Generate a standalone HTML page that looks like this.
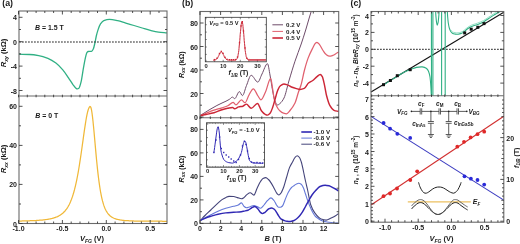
<!DOCTYPE html>
<html><head><meta charset="utf-8"><style>html,body{margin:0;padding:0;background:#fff;width:520px;height:244px;overflow:hidden}svg{display:block}</style></head>
<body>
<svg width="520" height="244" viewBox="0 0 520 244" font-family="'Liberation Sans', Arial, sans-serif" fill="#1a1a1a" font-weight="bold">
<rect width="520" height="244" fill="#fff"/>
<path d="M19.00,54.20 C22.50,54.30 26.00,54.34 29.50,54.50 C32.57,54.64 35.63,55.07 38.70,55.60 C41.77,56.13 44.83,57.17 47.90,58.40 C50.57,59.47 53.23,61.04 55.90,63.00 C58.20,64.69 60.50,67.20 62.80,69.90 C64.70,72.13 66.60,75.14 68.50,77.90 C70.03,80.13 71.57,82.76 73.10,84.80 C74.03,86.04 74.97,87.57 75.90,88.20 C76.37,88.52 76.83,88.90 77.30,88.90 C77.83,88.90 78.37,88.59 78.90,88.20 C79.67,87.64 80.43,84.36 81.20,81.30 C81.97,78.24 82.73,71.77 83.50,67.60 C84.27,63.43 85.03,59.01 85.80,56.10 C86.17,54.71 86.53,53.16 86.90,52.60 C87.27,52.04 87.63,51.55 88.00,51.50 C89.17,51.35 90.33,51.44 91.50,51.30 C92.10,51.23 92.70,50.15 93.30,49.00 C93.83,47.97 94.37,45.29 94.90,43.00 C95.37,40.99 95.83,37.95 96.30,36.00 C96.90,33.49 97.50,31.33 98.10,29.60 C98.90,27.30 99.70,25.05 100.50,23.90 C101.60,22.32 102.70,21.03 103.80,20.60 C105.70,19.85 107.60,19.30 109.50,19.30 C112.23,19.30 114.97,20.03 117.70,20.60 C120.40,21.17 123.10,22.29 125.80,23.10 C128.53,23.92 131.27,24.68 134.00,25.50 C136.73,26.32 139.47,27.18 142.20,28.00 C144.93,28.82 147.67,29.73 150.40,30.40 C153.10,31.06 155.80,31.75 158.50,32.10 C161.33,32.47 164.17,32.63 167.00,32.90" fill="none" stroke="#30b084" stroke-width="1.3"/>
<path d="M19.0,221.0 L19.5,221.0 L20.0,221.0 L20.5,221.0 L21.0,221.0 L21.5,221.0 L22.0,220.9 L22.5,220.9 L23.0,220.9 L23.5,220.9 L24.0,220.9 L24.5,220.9 L25.0,220.9 L25.5,220.9 L26.0,220.9 L26.5,220.8 L27.0,220.8 L27.5,220.8 L28.0,220.8 L28.5,220.8 L29.0,220.8 L29.5,220.8 L30.0,220.7 L30.5,220.7 L31.0,220.7 L31.5,220.7 L32.0,220.7 L32.5,220.6 L33.0,220.6 L33.5,220.6 L34.0,220.6 L34.5,220.6 L35.0,220.5 L35.5,220.5 L36.0,220.5 L36.5,220.4 L37.0,220.4 L37.5,220.4 L38.0,220.4 L38.5,220.3 L39.0,220.3 L39.5,220.2 L40.0,220.2 L40.5,220.2 L41.0,220.1 L41.5,220.1 L42.0,220.0 L42.5,220.0 L43.0,219.9 L43.5,219.9 L44.0,219.8 L44.5,219.8 L45.0,219.7 L45.5,219.6 L46.0,219.6 L46.5,219.5 L47.0,219.4 L47.5,219.4 L48.0,219.3 L48.5,219.2 L49.0,219.1 L49.5,219.0 L50.0,218.9 L50.5,218.8 L51.0,218.7 L51.5,218.6 L52.0,218.5 L52.5,218.3 L53.0,218.2 L53.5,218.1 L54.0,217.9 L54.5,217.7 L55.0,217.6 L55.5,217.4 L56.0,217.2 L56.5,217.0 L57.0,216.8 L57.5,216.6 L58.0,216.3 L58.5,216.1 L59.0,215.8 L59.5,215.5 L60.0,215.2 L60.5,214.9 L61.0,214.6 L61.5,214.2 L62.0,213.8 L62.5,213.4 L63.0,213.0 L63.5,212.5 L64.0,212.0 L64.5,211.5 L65.0,211.0 L65.5,210.4 L66.0,209.7 L66.5,209.1 L67.0,208.3 L67.5,207.6 L68.0,206.8 L68.5,205.9 L69.0,205.0 L69.5,204.0 L70.0,202.9 L70.5,201.8 L71.0,200.6 L71.5,199.3 L72.0,197.9 L72.5,196.5 L73.0,194.9 L73.5,193.3 L74.0,191.5 L74.5,189.7 L75.0,187.7 L75.5,185.6 L76.0,183.4 L76.5,181.1 L77.0,178.6 L77.5,176.0 L78.0,173.3 L78.5,170.5 L79.0,167.5 L79.5,164.4 L80.0,161.2 L80.5,157.9 L81.0,154.5 L81.5,151.0 L82.0,147.5 L82.5,143.9 L83.0,140.3 L83.5,136.7 L84.0,133.1 L84.5,129.7 L85.0,126.3 L85.5,123.1 L86.0,120.0 L86.5,117.2 L87.0,114.7 L87.5,112.4 L88.0,110.5 L88.5,108.9 L89.0,107.7 L89.5,106.9 L90.0,106.5 L90.5,106.7 L91.0,107.8 L91.5,109.9 L92.0,113.0 L92.5,116.8 L93.0,121.2 L93.5,126.2 L94.0,131.5 L94.5,137.1 L95.0,142.8 L95.5,148.4 L96.0,153.9 L96.5,159.2 L97.0,164.3 L97.5,169.1 L98.0,173.6 L98.5,177.8 L99.0,181.7 L99.5,185.2 L100.0,188.5 L100.5,191.5 L101.0,194.2 L101.5,196.7 L102.0,198.9 L102.5,200.9 L103.0,202.7 L103.5,204.4 L104.0,205.9 L104.5,207.2 L105.0,208.4 L105.5,209.5 L106.0,210.5 L106.5,211.4 L107.0,212.2 L107.5,213.0 L108.0,213.7 L108.5,214.3 L109.0,214.8 L109.5,215.3 L110.0,215.8 L110.5,216.2 L111.0,216.6 L111.5,216.9 L112.0,217.2 L112.5,217.5 L113.0,217.8 L113.5,218.0 L114.0,218.3 L114.5,218.5 L115.0,218.6 L115.5,218.8 L116.0,219.0 L116.5,219.1 L117.0,219.3 L117.5,219.4 L118.0,219.5 L118.5,219.6 L119.0,219.7 L119.5,219.8 L120.0,219.9 L120.5,220.0 L121.0,220.1 L121.5,220.1 L122.0,220.2 L122.5,220.3 L123.0,220.3 L123.5,220.4 L124.0,220.4 L124.5,220.5 L125.0,220.5 L125.5,220.5 L126.0,220.6 L126.5,220.6 L127.0,220.6 L127.5,220.7 L128.0,220.7 L128.5,220.7 L129.0,220.8 L129.5,220.8 L130.0,220.8 L130.5,220.8 L131.0,220.9 L131.5,220.9 L132.0,220.9 L132.5,220.9 L133.0,220.9 L133.5,220.9 L134.0,221.0 L134.5,221.0 L135.0,221.0 L135.5,221.0 L136.0,221.0 L136.5,221.0 L137.0,221.0 L137.5,221.0 L138.0,221.1 L138.5,221.1 L139.0,221.1 L139.5,221.1 L140.0,221.1 L140.5,221.1 L141.0,221.1 L141.5,221.1 L142.0,221.1 L142.5,221.1 L143.0,221.1 L143.5,221.1 L144.0,221.1 L144.5,221.2 L145.0,221.2 L145.5,221.2 L146.0,221.2 L146.5,221.2 L147.0,221.2 L147.5,221.2 L148.0,221.2 L148.5,221.2 L149.0,221.2 L149.5,221.2 L150.0,221.2 L150.5,221.2 L151.0,221.2 L151.5,221.2 L152.0,221.2 L152.5,221.2 L153.0,221.2 L153.5,221.2 L154.0,221.2 L154.5,221.2 L155.0,221.2 L155.5,221.2 L156.0,221.2 L156.5,221.2 L157.0,221.2 L157.5,221.2 L158.0,221.2 L158.5,221.2 L159.0,221.2 L159.5,221.2 L160.0,221.2 L160.5,221.2 L161.0,221.2 L161.5,221.2 L162.0,221.2 L162.5,221.3 L163.0,221.3 L163.5,221.3 L164.0,221.3 L164.5,221.3 L165.0,221.3 L165.5,221.3 L166.0,221.3 L166.5,221.3 L167.0,221.3" fill="none" stroke="#f0b838" stroke-width="1.25"/>
<line x1="19.0" y1="42.0" x2="167.0" y2="42.0" stroke="#2a2a2a" stroke-width="1.2" stroke-dasharray="1.8,1.2"/>
<rect x="19" y="11" width="148" height="212.5" fill="none" stroke="#6a6a6a" stroke-width="1.1"/>
<line x1="19.0" y1="96.0" x2="167.0" y2="96.0" stroke="#6a6a6a" stroke-width="1.1" />
<line x1="18.5" y1="11.0" x2="18.5" y2="14.5" stroke="#333" stroke-width="0.85" />
<line x1="18.5" y1="223.5" x2="18.5" y2="220.0" stroke="#333" stroke-width="0.85" />
<line x1="18.5" y1="94.7" x2="18.5" y2="97.3" stroke="#333" stroke-width="0.85" />
<line x1="27.3" y1="11.0" x2="27.3" y2="13.0" stroke="#333" stroke-width="0.85" />
<line x1="27.3" y1="223.5" x2="27.3" y2="221.5" stroke="#333" stroke-width="0.85" />
<line x1="27.3" y1="94.7" x2="27.3" y2="97.3" stroke="#333" stroke-width="0.85" />
<line x1="36.1" y1="11.0" x2="36.1" y2="13.0" stroke="#333" stroke-width="0.85" />
<line x1="36.1" y1="223.5" x2="36.1" y2="221.5" stroke="#333" stroke-width="0.85" />
<line x1="36.1" y1="94.7" x2="36.1" y2="97.3" stroke="#333" stroke-width="0.85" />
<line x1="44.8" y1="11.0" x2="44.8" y2="13.0" stroke="#333" stroke-width="0.85" />
<line x1="44.8" y1="223.5" x2="44.8" y2="221.5" stroke="#333" stroke-width="0.85" />
<line x1="44.8" y1="94.7" x2="44.8" y2="97.3" stroke="#333" stroke-width="0.85" />
<line x1="53.6" y1="11.0" x2="53.6" y2="13.0" stroke="#333" stroke-width="0.85" />
<line x1="53.6" y1="223.5" x2="53.6" y2="221.5" stroke="#333" stroke-width="0.85" />
<line x1="53.6" y1="94.7" x2="53.6" y2="97.3" stroke="#333" stroke-width="0.85" />
<line x1="62.4" y1="11.0" x2="62.4" y2="14.5" stroke="#333" stroke-width="0.85" />
<line x1="62.4" y1="223.5" x2="62.4" y2="220.0" stroke="#333" stroke-width="0.85" />
<line x1="62.4" y1="94.7" x2="62.4" y2="97.3" stroke="#333" stroke-width="0.85" />
<line x1="71.2" y1="11.0" x2="71.2" y2="13.0" stroke="#333" stroke-width="0.85" />
<line x1="71.2" y1="223.5" x2="71.2" y2="221.5" stroke="#333" stroke-width="0.85" />
<line x1="71.2" y1="94.7" x2="71.2" y2="97.3" stroke="#333" stroke-width="0.85" />
<line x1="80.0" y1="11.0" x2="80.0" y2="13.0" stroke="#333" stroke-width="0.85" />
<line x1="80.0" y1="223.5" x2="80.0" y2="221.5" stroke="#333" stroke-width="0.85" />
<line x1="80.0" y1="94.7" x2="80.0" y2="97.3" stroke="#333" stroke-width="0.85" />
<line x1="88.7" y1="11.0" x2="88.7" y2="13.0" stroke="#333" stroke-width="0.85" />
<line x1="88.7" y1="223.5" x2="88.7" y2="221.5" stroke="#333" stroke-width="0.85" />
<line x1="88.7" y1="94.7" x2="88.7" y2="97.3" stroke="#333" stroke-width="0.85" />
<line x1="97.5" y1="11.0" x2="97.5" y2="13.0" stroke="#333" stroke-width="0.85" />
<line x1="97.5" y1="223.5" x2="97.5" y2="221.5" stroke="#333" stroke-width="0.85" />
<line x1="97.5" y1="94.7" x2="97.5" y2="97.3" stroke="#333" stroke-width="0.85" />
<line x1="106.3" y1="11.0" x2="106.3" y2="14.5" stroke="#333" stroke-width="0.85" />
<line x1="106.3" y1="223.5" x2="106.3" y2="220.0" stroke="#333" stroke-width="0.85" />
<line x1="106.3" y1="94.7" x2="106.3" y2="97.3" stroke="#333" stroke-width="0.85" />
<line x1="115.1" y1="11.0" x2="115.1" y2="13.0" stroke="#333" stroke-width="0.85" />
<line x1="115.1" y1="223.5" x2="115.1" y2="221.5" stroke="#333" stroke-width="0.85" />
<line x1="115.1" y1="94.7" x2="115.1" y2="97.3" stroke="#333" stroke-width="0.85" />
<line x1="123.9" y1="11.0" x2="123.9" y2="13.0" stroke="#333" stroke-width="0.85" />
<line x1="123.9" y1="223.5" x2="123.9" y2="221.5" stroke="#333" stroke-width="0.85" />
<line x1="123.9" y1="94.7" x2="123.9" y2="97.3" stroke="#333" stroke-width="0.85" />
<line x1="132.6" y1="11.0" x2="132.6" y2="13.0" stroke="#333" stroke-width="0.85" />
<line x1="132.6" y1="223.5" x2="132.6" y2="221.5" stroke="#333" stroke-width="0.85" />
<line x1="132.6" y1="94.7" x2="132.6" y2="97.3" stroke="#333" stroke-width="0.85" />
<line x1="141.4" y1="11.0" x2="141.4" y2="13.0" stroke="#333" stroke-width="0.85" />
<line x1="141.4" y1="223.5" x2="141.4" y2="221.5" stroke="#333" stroke-width="0.85" />
<line x1="141.4" y1="94.7" x2="141.4" y2="97.3" stroke="#333" stroke-width="0.85" />
<line x1="150.2" y1="11.0" x2="150.2" y2="14.5" stroke="#333" stroke-width="0.85" />
<line x1="150.2" y1="223.5" x2="150.2" y2="220.0" stroke="#333" stroke-width="0.85" />
<line x1="150.2" y1="94.7" x2="150.2" y2="97.3" stroke="#333" stroke-width="0.85" />
<line x1="159.0" y1="11.0" x2="159.0" y2="13.0" stroke="#333" stroke-width="0.85" />
<line x1="159.0" y1="223.5" x2="159.0" y2="221.5" stroke="#333" stroke-width="0.85" />
<line x1="159.0" y1="94.7" x2="159.0" y2="97.3" stroke="#333" stroke-width="0.85" />
<line x1="19.0" y1="90.5" x2="22.5" y2="90.5" stroke="#333" stroke-width="0.85" />
<line x1="167.0" y1="90.5" x2="163.5" y2="90.5" stroke="#333" stroke-width="0.85" />
<line x1="19.0" y1="78.3" x2="21.0" y2="78.3" stroke="#333" stroke-width="0.85" />
<line x1="167.0" y1="78.3" x2="165.0" y2="78.3" stroke="#333" stroke-width="0.85" />
<line x1="19.0" y1="66.1" x2="22.5" y2="66.1" stroke="#333" stroke-width="0.85" />
<line x1="167.0" y1="66.1" x2="163.5" y2="66.1" stroke="#333" stroke-width="0.85" />
<line x1="19.0" y1="53.9" x2="21.0" y2="53.9" stroke="#333" stroke-width="0.85" />
<line x1="167.0" y1="53.9" x2="165.0" y2="53.9" stroke="#333" stroke-width="0.85" />
<line x1="19.0" y1="41.7" x2="22.5" y2="41.7" stroke="#333" stroke-width="0.85" />
<line x1="167.0" y1="41.7" x2="163.5" y2="41.7" stroke="#333" stroke-width="0.85" />
<line x1="19.0" y1="29.5" x2="21.0" y2="29.5" stroke="#333" stroke-width="0.85" />
<line x1="167.0" y1="29.5" x2="165.0" y2="29.5" stroke="#333" stroke-width="0.85" />
<line x1="19.0" y1="17.3" x2="22.5" y2="17.3" stroke="#333" stroke-width="0.85" />
<line x1="167.0" y1="17.3" x2="163.5" y2="17.3" stroke="#333" stroke-width="0.85" />
<line x1="19.0" y1="223.5" x2="22.5" y2="223.5" stroke="#333" stroke-width="0.85" />
<line x1="167.0" y1="223.5" x2="163.5" y2="223.5" stroke="#333" stroke-width="0.85" />
<line x1="19.0" y1="204.0" x2="21.0" y2="204.0" stroke="#333" stroke-width="0.85" />
<line x1="167.0" y1="204.0" x2="165.0" y2="204.0" stroke="#333" stroke-width="0.85" />
<line x1="19.0" y1="184.4" x2="22.5" y2="184.4" stroke="#333" stroke-width="0.85" />
<line x1="167.0" y1="184.4" x2="163.5" y2="184.4" stroke="#333" stroke-width="0.85" />
<line x1="19.0" y1="164.9" x2="21.0" y2="164.9" stroke="#333" stroke-width="0.85" />
<line x1="167.0" y1="164.9" x2="165.0" y2="164.9" stroke="#333" stroke-width="0.85" />
<line x1="19.0" y1="145.4" x2="22.5" y2="145.4" stroke="#333" stroke-width="0.85" />
<line x1="167.0" y1="145.4" x2="163.5" y2="145.4" stroke="#333" stroke-width="0.85" />
<line x1="19.0" y1="125.8" x2="21.0" y2="125.8" stroke="#333" stroke-width="0.85" />
<line x1="167.0" y1="125.8" x2="165.0" y2="125.8" stroke="#333" stroke-width="0.85" />
<line x1="19.0" y1="106.3" x2="22.5" y2="106.3" stroke="#333" stroke-width="0.85" />
<line x1="167.0" y1="106.3" x2="163.5" y2="106.3" stroke="#333" stroke-width="0.85" />
<text x="17.0" y="20.3" font-size="7" text-anchor="end" >4</text>
<text x="17.0" y="44.7" font-size="7" text-anchor="end" >0</text>
<text x="17.0" y="69.1" font-size="7" text-anchor="end" >-4</text>
<text x="17.0" y="93.5" font-size="7" text-anchor="end" >-8</text>
<text x="17.0" y="109.3" font-size="7" text-anchor="end" >60</text>
<text x="17.0" y="148.4" font-size="7" text-anchor="end" >40</text>
<text x="17.0" y="187.4" font-size="7" text-anchor="end" >20</text>
<text x="17.0" y="226.5" font-size="7" text-anchor="end" >0</text>
<text x="18.5" y="230.5" font-size="7" text-anchor="middle" >-1.0</text>
<text x="62.4" y="230.5" font-size="7" text-anchor="middle" >-0.5</text>
<text x="106.3" y="230.5" font-size="7" text-anchor="middle" >0.0</text>
<text x="150.2" y="230.5" font-size="7" text-anchor="middle" >0.5</text>
<text x="92.0" y="241.0" font-size="7.5" text-anchor="middle" ><tspan font-style="italic">V</tspan><tspan font-size="5" font-style="italic" dy="1.5">FG</tspan><tspan dy="-1.5"> (V)</tspan></text>
<text x="2.3" y="6.0" font-size="8.8" text-anchor="start" font-weight="bold">(a)</text>
<text x="35.0" y="29.9" font-size="7.7" text-anchor="start" textLength="28.8" lengthAdjust="spacingAndGlyphs"><tspan font-style="italic">B</tspan> = 1.5 T</text>
<text x="35.2" y="117.6" font-size="7.5" text-anchor="start" textLength="23" lengthAdjust="spacingAndGlyphs"><tspan font-style="italic">B</tspan> = 0 T</text>
<text transform="translate(6.3,53) rotate(-90)" font-size="7.6" text-anchor="middle"><tspan font-style="italic">R</tspan><tspan font-size="5" font-style="italic" dy="1.5">xy</tspan><tspan dy="-1.5"> (kΩ)</tspan></text>
<text transform="translate(6.3,159) rotate(-90)" font-size="7.6" text-anchor="middle"><tspan font-style="italic">R</tspan><tspan font-size="5" font-style="italic" dy="1.5">xx</tspan><tspan dy="-1.5"> (kΩ)</tspan></text>
<path d="M200.20,115.50 C201.80,114.50 203.40,113.50 205.00,112.50 C206.67,111.46 208.33,110.39 210.00,109.40 C212.30,108.04 214.60,106.70 216.90,105.50 C218.60,104.61 220.30,103.80 222.00,103.00 C223.33,102.38 224.67,101.86 226.00,101.20 C227.17,100.62 228.33,100.04 229.50,99.30 C230.47,98.69 231.43,97.10 232.40,97.10 C233.17,97.10 233.93,98.60 234.70,98.60 C236.27,98.60 237.83,91.60 239.40,91.60 C240.40,91.60 241.40,95.60 242.40,95.60 C243.77,95.60 245.13,88.66 246.50,85.50 C248.07,81.88 249.63,75.30 251.20,75.30 C253.40,75.30 255.60,82.10 257.80,82.10 C259.20,82.10 260.60,76.66 262.00,74.00 C263.83,70.51 265.67,63.70 267.50,63.70 C268.33,63.70 269.17,70.70 270.00,75.00 C270.83,79.30 271.67,85.69 272.50,90.00 C273.27,93.97 274.03,98.60 274.80,100.50 C275.70,102.73 276.60,105.00 277.50,105.00 C278.33,105.00 279.17,104.18 280.00,103.50 C281.33,102.42 282.67,100.59 284.00,98.00 C285.63,94.83 287.27,86.48 288.90,81.00 C290.93,74.17 292.97,67.28 295.00,61.20 C297.07,55.02 299.13,50.08 301.20,44.00 C302.70,39.59 304.20,34.90 305.70,30.00 C306.87,26.19 308.03,21.88 309.20,18.00 C309.87,15.78 310.53,13.67 311.20,11.50" fill="none" stroke="#6e4c6a" stroke-width="1.0"/>
<path d="M200.20,115.60 C202.13,114.83 204.07,114.06 206.00,113.30 C208.67,112.25 211.33,111.10 214.00,110.20 C216.67,109.30 219.33,108.68 222.00,107.80 C224.10,107.11 226.20,106.49 228.30,105.50 C229.90,104.74 231.50,102.40 233.10,102.40 C234.03,102.40 234.97,104.80 235.90,104.80 C237.77,104.80 239.63,99.90 241.50,99.90 C242.67,99.90 243.83,102.70 245.00,102.70 C246.33,102.70 247.67,97.20 249.00,95.00 C250.43,92.63 251.87,88.80 253.30,88.80 C254.87,88.80 256.43,93.81 258.00,96.00 C259.00,97.40 260.00,99.90 261.00,99.90 C262.50,99.90 264.00,95.14 265.50,92.00 C267.23,88.38 268.97,78.40 270.70,78.40 C271.30,78.40 271.90,84.53 272.50,88.00 C273.13,91.66 273.77,97.49 274.40,100.00 C275.10,102.77 275.80,104.62 276.50,106.00 C277.60,108.17 278.70,109.81 279.80,110.80 C281.03,111.91 282.27,112.83 283.50,113.20 C284.50,113.50 285.50,113.80 286.50,113.80 C287.67,113.80 288.83,111.83 290.00,110.50 C291.67,108.60 293.33,106.46 295.00,103.00 C296.17,100.58 297.33,95.44 298.50,92.00 C299.33,89.54 300.17,87.79 301.00,85.00 C302.17,81.09 303.33,74.33 304.50,70.00 C305.73,65.42 306.97,61.15 308.20,57.90 C309.57,54.30 310.93,51.56 312.30,48.90 C313.40,46.76 314.50,44.04 315.60,43.10 C316.03,42.73 316.47,42.30 316.90,42.30 C317.83,42.30 318.77,43.71 319.70,44.80 C320.80,46.08 321.90,48.88 323.00,50.50 C324.07,52.07 325.13,53.85 326.20,54.60 C327.30,55.38 328.40,56.20 329.50,56.20 C330.60,56.20 331.70,55.77 332.80,55.40 C334.17,54.94 335.53,53.78 336.90,53.00 C337.50,52.66 338.10,52.33 338.70,52.00" fill="none" stroke="#e0606e" stroke-width="1.25"/>
<path d="M200.20,115.60 C202.13,115.23 204.07,114.89 206.00,114.50 C208.67,113.97 211.33,113.53 214.00,112.80 C216.67,112.07 219.33,110.50 222.00,109.70 C223.87,109.14 225.73,108.70 227.60,108.30 C229.20,107.96 230.80,107.40 232.40,107.40 C233.10,107.40 233.80,108.80 234.50,108.80 C235.90,108.80 237.30,107.24 238.70,106.90 C240.10,106.56 241.50,106.57 242.90,106.20 C244.07,105.89 245.23,104.10 246.40,104.10 C248.00,104.10 249.60,108.30 251.20,108.30 C253.30,108.30 255.40,103.40 257.50,103.40 C258.80,103.40 260.10,109.14 261.40,110.80 C262.57,112.29 263.73,113.62 264.90,114.20 C265.77,114.63 266.63,115.10 267.50,115.10 C268.37,115.10 269.23,114.22 270.10,113.30 C270.97,112.38 271.83,109.70 272.70,107.30 C273.53,105.00 274.37,101.51 275.20,98.70 C276.07,95.78 276.93,92.01 277.80,90.10 C278.67,88.19 279.53,86.50 280.40,85.80 C281.57,84.86 282.73,84.00 283.90,84.00 C285.03,84.00 286.17,84.51 287.30,84.90 C288.67,85.37 290.03,86.46 291.40,87.00 C293.07,87.66 294.73,88.17 296.40,88.60 C297.60,88.91 298.80,89.40 300.00,89.40 C301.43,89.40 302.87,88.91 304.30,88.30 C305.70,87.70 307.10,84.12 308.50,83.00 C309.93,81.86 311.37,81.53 312.80,80.50 C314.20,79.50 315.60,77.67 317.00,76.60 C318.07,75.79 319.13,74.50 320.20,74.50 C320.90,74.50 321.60,75.49 322.30,76.60 C323.03,77.76 323.77,81.87 324.50,85.10 C325.20,88.18 325.90,93.11 326.60,95.80 C327.67,99.90 328.73,103.57 329.80,105.40 C331.20,107.80 332.60,109.71 334.00,110.30 C335.57,110.96 337.13,111.10 338.70,111.50" fill="none" stroke="#cc2636" stroke-width="1.45"/>
<path d="M200.30,220.50 C201.87,218.83 203.43,217.07 205.00,215.50 C206.93,213.56 208.87,211.89 210.80,210.00 C212.03,208.80 213.27,207.50 214.50,206.30 C215.73,205.10 216.97,203.90 218.20,202.80 C219.47,201.67 220.73,200.44 222.00,199.60 C223.33,198.71 224.67,197.95 226.00,197.40 C227.00,196.99 228.00,196.40 229.00,196.40 C230.53,196.40 232.07,196.44 233.60,196.50 C234.90,196.55 236.20,197.22 237.50,197.60 C238.80,197.98 240.10,198.80 241.40,198.80 C242.20,198.80 243.00,198.20 243.80,197.70 C244.83,197.06 245.87,195.33 246.90,194.60 C248.00,193.82 249.10,192.80 250.20,192.80 C251.43,192.80 252.67,195.10 253.90,195.10 C254.93,195.10 255.97,190.63 257.00,188.50 C258.17,186.09 259.33,183.23 260.50,181.50 C261.33,180.27 262.17,178.93 263.00,178.50 C263.93,178.02 264.87,177.60 265.80,177.60 C266.70,177.60 267.60,178.67 268.50,179.50 C269.47,180.39 270.43,181.91 271.40,183.40 C272.43,184.99 273.47,187.14 274.50,189.00 C275.33,190.50 276.17,192.63 277.00,193.50 C277.67,194.20 278.33,195.00 279.00,195.00 C279.67,195.00 280.33,193.90 281.00,193.00 C281.97,191.69 282.93,189.14 283.90,186.50 C284.77,184.13 285.63,180.43 286.50,177.50 C287.50,174.12 288.50,169.98 289.50,167.60 C290.50,165.22 291.50,163.83 292.50,162.00 C293.33,160.47 294.17,158.43 295.00,157.50 C295.73,156.68 296.47,155.70 297.20,155.70 C297.97,155.70 298.73,156.57 299.50,157.50 C300.10,158.23 300.70,160.12 301.30,162.00 C302.07,164.41 302.83,168.52 303.60,172.00 C304.23,174.88 304.87,178.16 305.50,181.00 C306.17,183.99 306.83,186.52 307.50,189.50 C308.57,194.26 309.63,201.65 310.70,204.70 C312.07,208.61 313.43,211.05 314.80,212.90 C316.87,215.69 318.93,218.28 321.00,219.00 C322.70,219.59 324.40,220.10 326.10,220.10 C327.80,220.10 329.50,218.78 331.20,218.00 C332.80,217.26 334.40,216.49 336.00,215.50 C336.90,214.94 337.80,214.17 338.70,213.50" fill="none" stroke="#44447a" stroke-width="1.1"/>
<path d="M200.30,220.50 C201.87,219.60 203.43,218.65 205.00,217.80 C206.93,216.75 208.87,215.78 210.80,214.80 C213.20,213.58 215.60,212.23 218.00,211.20 C220.60,210.09 223.20,209.09 225.80,208.30 C228.40,207.51 231.00,206.99 233.60,206.30 C235.17,205.88 236.73,205.63 238.30,205.00 C239.33,204.58 240.37,202.90 241.40,202.90 C242.20,202.90 243.00,205.38 243.80,206.10 C244.63,206.85 245.47,207.80 246.30,207.80 C247.37,207.80 248.43,207.31 249.50,207.00 C250.97,206.58 252.43,205.50 253.90,205.50 C254.93,205.50 255.97,206.09 257.00,206.50 C258.17,206.96 259.33,208.30 260.50,208.30 C261.67,208.30 262.83,206.27 264.00,205.00 C265.17,203.73 266.33,201.62 267.50,200.50 C268.63,199.41 269.77,197.90 270.90,197.90 C271.93,197.90 272.97,199.30 274.00,200.50 C274.83,201.47 275.67,203.87 276.50,205.00 C277.17,205.90 277.83,207.14 278.50,207.20 C279.17,207.26 279.83,207.30 280.50,207.30 C281.17,207.30 281.83,206.67 282.50,206.00 C283.33,205.17 284.17,201.99 285.00,200.00 C286.07,197.45 287.13,194.35 288.20,192.40 C289.30,190.39 290.40,188.55 291.50,187.50 C292.43,186.61 293.37,186.17 294.30,185.50 C295.03,184.97 295.77,184.18 296.50,183.90 C297.27,183.60 298.03,183.30 298.80,183.30 C299.60,183.30 300.40,183.77 301.20,184.30 C301.63,184.59 302.07,185.30 302.50,186.00 C302.87,186.59 303.23,187.41 303.60,188.30 C304.23,189.84 304.87,192.10 305.50,194.00 C306.23,196.20 306.97,198.57 307.70,200.60 C308.47,202.72 309.23,204.70 310.00,206.50 C310.93,208.69 311.87,210.87 312.80,212.50 C313.70,214.07 314.60,215.60 315.50,216.50 C316.63,217.63 317.77,218.29 318.90,219.00 C319.93,219.65 320.97,220.34 322.00,220.70 C323.03,221.06 324.07,221.28 325.10,221.50 C326.40,221.78 327.70,222.02 329.00,222.20 C330.43,222.40 331.87,222.57 333.30,222.70 C335.10,222.86 336.90,222.97 338.70,223.10" fill="none" stroke="#6478d8" stroke-width="1.1"/>
<path d="M200.30,220.50 C201.87,219.77 203.43,218.93 205.00,218.30 C206.93,217.53 208.87,216.91 210.80,216.30 C213.20,215.54 215.60,214.71 218.00,214.20 C220.60,213.65 223.20,213.17 225.80,212.90 C228.40,212.63 231.00,212.50 233.60,212.30 C236.20,212.10 238.80,212.02 241.40,211.70 C242.33,211.59 243.27,211.31 244.20,211.10 C245.47,210.82 246.73,210.64 248.00,210.20 C249.17,209.80 250.33,208.63 251.50,208.00 C252.63,207.39 253.77,206.40 254.90,206.40 C255.93,206.40 256.97,207.91 258.00,209.00 C258.83,209.88 259.67,211.83 260.50,212.50 C261.13,213.01 261.77,213.60 262.40,213.60 C263.27,213.60 264.13,212.86 265.00,212.30 C266.17,211.55 267.33,209.57 268.50,209.00 C269.60,208.46 270.70,207.90 271.80,207.90 C272.70,207.90 273.60,208.74 274.50,209.50 C275.50,210.34 276.50,212.57 277.50,214.00 C278.77,215.82 280.03,218.34 281.30,219.20 C282.23,219.83 283.17,220.18 284.10,220.50 C285.07,220.84 286.03,221.20 287.00,221.30 C288.07,221.41 289.13,221.50 290.20,221.50 C291.30,221.50 292.40,221.08 293.50,220.70 C294.47,220.37 295.43,219.70 296.40,219.00 C297.43,218.25 298.47,217.17 299.50,216.00 C300.50,214.87 301.50,213.45 302.50,211.90 C303.50,210.35 304.50,208.32 305.50,206.50 C306.57,204.56 307.63,202.49 308.70,200.60 C309.80,198.66 310.90,196.56 312.00,195.00 C313.30,193.16 314.60,191.66 315.90,190.30 C317.27,188.87 318.63,187.06 320.00,186.50 C321.70,185.81 323.40,185.20 325.10,185.20 C326.40,185.20 327.70,185.50 329.00,185.80 C330.10,186.06 331.20,186.76 332.30,187.30 C333.37,187.82 334.43,188.39 335.50,189.00 C336.57,189.61 337.63,190.33 338.70,191.00" fill="none" stroke="#3028b4" stroke-width="1.45"/>
<rect x="200" y="11.5" width="138.7" height="211.9" fill="none" stroke="#6a6a6a" stroke-width="1.1"/>
<line x1="200.0" y1="117.7" x2="338.7" y2="117.7" stroke="#6a6a6a" stroke-width="1.1" />
<line x1="200.0" y1="11.5" x2="200.0" y2="15.0" stroke="#333" stroke-width="0.85" />
<line x1="200.0" y1="223.4" x2="200.0" y2="219.9" stroke="#333" stroke-width="0.85" />
<line x1="200.0" y1="116.4" x2="200.0" y2="119.0" stroke="#333" stroke-width="0.85" />
<line x1="210.3" y1="11.5" x2="210.3" y2="13.5" stroke="#333" stroke-width="0.85" />
<line x1="210.3" y1="223.4" x2="210.3" y2="221.4" stroke="#333" stroke-width="0.85" />
<line x1="210.3" y1="116.4" x2="210.3" y2="119.0" stroke="#333" stroke-width="0.85" />
<line x1="220.6" y1="11.5" x2="220.6" y2="15.0" stroke="#333" stroke-width="0.85" />
<line x1="220.6" y1="223.4" x2="220.6" y2="219.9" stroke="#333" stroke-width="0.85" />
<line x1="220.6" y1="116.4" x2="220.6" y2="119.0" stroke="#333" stroke-width="0.85" />
<line x1="230.9" y1="11.5" x2="230.9" y2="13.5" stroke="#333" stroke-width="0.85" />
<line x1="230.9" y1="223.4" x2="230.9" y2="221.4" stroke="#333" stroke-width="0.85" />
<line x1="230.9" y1="116.4" x2="230.9" y2="119.0" stroke="#333" stroke-width="0.85" />
<line x1="241.2" y1="11.5" x2="241.2" y2="15.0" stroke="#333" stroke-width="0.85" />
<line x1="241.2" y1="223.4" x2="241.2" y2="219.9" stroke="#333" stroke-width="0.85" />
<line x1="241.2" y1="116.4" x2="241.2" y2="119.0" stroke="#333" stroke-width="0.85" />
<line x1="251.5" y1="11.5" x2="251.5" y2="13.5" stroke="#333" stroke-width="0.85" />
<line x1="251.5" y1="223.4" x2="251.5" y2="221.4" stroke="#333" stroke-width="0.85" />
<line x1="251.5" y1="116.4" x2="251.5" y2="119.0" stroke="#333" stroke-width="0.85" />
<line x1="261.8" y1="11.5" x2="261.8" y2="15.0" stroke="#333" stroke-width="0.85" />
<line x1="261.8" y1="223.4" x2="261.8" y2="219.9" stroke="#333" stroke-width="0.85" />
<line x1="261.8" y1="116.4" x2="261.8" y2="119.0" stroke="#333" stroke-width="0.85" />
<line x1="272.1" y1="11.5" x2="272.1" y2="13.5" stroke="#333" stroke-width="0.85" />
<line x1="272.1" y1="223.4" x2="272.1" y2="221.4" stroke="#333" stroke-width="0.85" />
<line x1="272.1" y1="116.4" x2="272.1" y2="119.0" stroke="#333" stroke-width="0.85" />
<line x1="282.4" y1="11.5" x2="282.4" y2="15.0" stroke="#333" stroke-width="0.85" />
<line x1="282.4" y1="223.4" x2="282.4" y2="219.9" stroke="#333" stroke-width="0.85" />
<line x1="282.4" y1="116.4" x2="282.4" y2="119.0" stroke="#333" stroke-width="0.85" />
<line x1="292.7" y1="11.5" x2="292.7" y2="13.5" stroke="#333" stroke-width="0.85" />
<line x1="292.7" y1="223.4" x2="292.7" y2="221.4" stroke="#333" stroke-width="0.85" />
<line x1="292.7" y1="116.4" x2="292.7" y2="119.0" stroke="#333" stroke-width="0.85" />
<line x1="303.0" y1="11.5" x2="303.0" y2="15.0" stroke="#333" stroke-width="0.85" />
<line x1="303.0" y1="223.4" x2="303.0" y2="219.9" stroke="#333" stroke-width="0.85" />
<line x1="303.0" y1="116.4" x2="303.0" y2="119.0" stroke="#333" stroke-width="0.85" />
<line x1="313.3" y1="11.5" x2="313.3" y2="13.5" stroke="#333" stroke-width="0.85" />
<line x1="313.3" y1="223.4" x2="313.3" y2="221.4" stroke="#333" stroke-width="0.85" />
<line x1="313.3" y1="116.4" x2="313.3" y2="119.0" stroke="#333" stroke-width="0.85" />
<line x1="323.6" y1="11.5" x2="323.6" y2="15.0" stroke="#333" stroke-width="0.85" />
<line x1="323.6" y1="223.4" x2="323.6" y2="219.9" stroke="#333" stroke-width="0.85" />
<line x1="323.6" y1="116.4" x2="323.6" y2="119.0" stroke="#333" stroke-width="0.85" />
<line x1="333.9" y1="11.5" x2="333.9" y2="13.5" stroke="#333" stroke-width="0.85" />
<line x1="333.9" y1="223.4" x2="333.9" y2="221.4" stroke="#333" stroke-width="0.85" />
<line x1="333.9" y1="116.4" x2="333.9" y2="119.0" stroke="#333" stroke-width="0.85" />
<line x1="200.0" y1="117.0" x2="203.5" y2="117.0" stroke="#333" stroke-width="0.85" />
<line x1="338.7" y1="117.0" x2="335.2" y2="117.0" stroke="#333" stroke-width="0.85" />
<line x1="200.0" y1="223.4" x2="203.5" y2="223.4" stroke="#333" stroke-width="0.85" />
<line x1="338.7" y1="223.4" x2="335.2" y2="223.4" stroke="#333" stroke-width="0.85" />
<line x1="200.0" y1="105.2" x2="202.0" y2="105.2" stroke="#333" stroke-width="0.85" />
<line x1="338.7" y1="105.2" x2="336.7" y2="105.2" stroke="#333" stroke-width="0.85" />
<line x1="200.0" y1="211.7" x2="202.0" y2="211.7" stroke="#333" stroke-width="0.85" />
<line x1="338.7" y1="211.7" x2="336.7" y2="211.7" stroke="#333" stroke-width="0.85" />
<line x1="200.0" y1="93.5" x2="203.5" y2="93.5" stroke="#333" stroke-width="0.85" />
<line x1="338.7" y1="93.5" x2="335.2" y2="93.5" stroke="#333" stroke-width="0.85" />
<line x1="200.0" y1="199.9" x2="203.5" y2="199.9" stroke="#333" stroke-width="0.85" />
<line x1="338.7" y1="199.9" x2="335.2" y2="199.9" stroke="#333" stroke-width="0.85" />
<line x1="200.0" y1="81.8" x2="202.0" y2="81.8" stroke="#333" stroke-width="0.85" />
<line x1="338.7" y1="81.8" x2="336.7" y2="81.8" stroke="#333" stroke-width="0.85" />
<line x1="200.0" y1="188.2" x2="202.0" y2="188.2" stroke="#333" stroke-width="0.85" />
<line x1="338.7" y1="188.2" x2="336.7" y2="188.2" stroke="#333" stroke-width="0.85" />
<line x1="200.0" y1="70.0" x2="203.5" y2="70.0" stroke="#333" stroke-width="0.85" />
<line x1="338.7" y1="70.0" x2="335.2" y2="70.0" stroke="#333" stroke-width="0.85" />
<line x1="200.0" y1="176.4" x2="203.5" y2="176.4" stroke="#333" stroke-width="0.85" />
<line x1="338.7" y1="176.4" x2="335.2" y2="176.4" stroke="#333" stroke-width="0.85" />
<line x1="200.0" y1="58.2" x2="202.0" y2="58.2" stroke="#333" stroke-width="0.85" />
<line x1="338.7" y1="58.2" x2="336.7" y2="58.2" stroke="#333" stroke-width="0.85" />
<line x1="200.0" y1="164.7" x2="202.0" y2="164.7" stroke="#333" stroke-width="0.85" />
<line x1="338.7" y1="164.7" x2="336.7" y2="164.7" stroke="#333" stroke-width="0.85" />
<line x1="200.0" y1="46.5" x2="203.5" y2="46.5" stroke="#333" stroke-width="0.85" />
<line x1="338.7" y1="46.5" x2="335.2" y2="46.5" stroke="#333" stroke-width="0.85" />
<line x1="200.0" y1="152.9" x2="203.5" y2="152.9" stroke="#333" stroke-width="0.85" />
<line x1="338.7" y1="152.9" x2="335.2" y2="152.9" stroke="#333" stroke-width="0.85" />
<line x1="200.0" y1="34.8" x2="202.0" y2="34.8" stroke="#333" stroke-width="0.85" />
<line x1="338.7" y1="34.8" x2="336.7" y2="34.8" stroke="#333" stroke-width="0.85" />
<line x1="200.0" y1="141.2" x2="202.0" y2="141.2" stroke="#333" stroke-width="0.85" />
<line x1="338.7" y1="141.2" x2="336.7" y2="141.2" stroke="#333" stroke-width="0.85" />
<line x1="200.0" y1="23.0" x2="203.5" y2="23.0" stroke="#333" stroke-width="0.85" />
<line x1="338.7" y1="23.0" x2="335.2" y2="23.0" stroke="#333" stroke-width="0.85" />
<line x1="200.0" y1="129.4" x2="203.5" y2="129.4" stroke="#333" stroke-width="0.85" />
<line x1="338.7" y1="129.4" x2="335.2" y2="129.4" stroke="#333" stroke-width="0.85" />
<line x1="200.0" y1="117.7" x2="202.0" y2="117.7" stroke="#333" stroke-width="0.85" />
<line x1="338.7" y1="117.7" x2="336.7" y2="117.7" stroke="#333" stroke-width="0.85" />
<text x="198.0" y="26.0" font-size="7" text-anchor="end" >80</text>
<text x="198.0" y="132.4" font-size="7" text-anchor="end" >80</text>
<text x="198.0" y="49.5" font-size="7" text-anchor="end" >60</text>
<text x="198.0" y="155.9" font-size="7" text-anchor="end" >60</text>
<text x="198.0" y="73.0" font-size="7" text-anchor="end" >40</text>
<text x="198.0" y="179.4" font-size="7" text-anchor="end" >40</text>
<text x="198.0" y="96.5" font-size="7" text-anchor="end" >20</text>
<text x="198.0" y="202.9" font-size="7" text-anchor="end" >20</text>
<text x="198.0" y="120.0" font-size="7" text-anchor="end" >0</text>
<text x="198.0" y="226.4" font-size="7" text-anchor="end" >0</text>
<text x="200.0" y="230.5" font-size="7" text-anchor="middle" >0</text>
<text x="220.6" y="230.5" font-size="7" text-anchor="middle" >2</text>
<text x="241.2" y="230.5" font-size="7" text-anchor="middle" >4</text>
<text x="261.8" y="230.5" font-size="7" text-anchor="middle" >6</text>
<text x="282.4" y="230.5" font-size="7" text-anchor="middle" >8</text>
<text x="303.0" y="230.5" font-size="7" text-anchor="middle" >10</text>
<text x="323.6" y="230.5" font-size="7" text-anchor="middle" >12</text>
<text x="273.0" y="241.0" font-size="7.5" text-anchor="middle" ><tspan font-style="italic">B</tspan> (T)</text>
<text x="182.0" y="6.0" font-size="8.8" text-anchor="start" font-weight="bold">(b)</text>
<text transform="translate(183.8,64.7) rotate(-90)" font-size="7" text-anchor="middle"><tspan font-style="italic">R</tspan><tspan font-size="5" font-style="italic" dy="1.5">xx</tspan><tspan dy="-1.5"> (kΩ)</tspan></text>
<text transform="translate(183.8,169) rotate(-90)" font-size="7" text-anchor="middle"><tspan font-style="italic">R</tspan><tspan font-size="5" font-style="italic" dy="1.5">xx</tspan><tspan dy="-1.5"> (kΩ)</tspan></text>
<line x1="272.4" y1="24.8" x2="283.0" y2="24.8" stroke="#6e4c6a" stroke-width="1.0" />
<text x="286.0" y="27.0" font-size="6.2" text-anchor="start" >0.2 V</text>
<line x1="272.4" y1="31.4" x2="283.0" y2="31.4" stroke="#e0606e" stroke-width="1.0" />
<text x="286.0" y="33.6" font-size="6.2" text-anchor="start" >0.4 V</text>
<line x1="272.4" y1="38.0" x2="283.0" y2="38.0" stroke="#cc2636" stroke-width="1.6" />
<text x="286.0" y="40.2" font-size="6.2" text-anchor="start" >0.5 V</text>
<line x1="301.3" y1="132.0" x2="312.0" y2="132.0" stroke="#3028b4" stroke-width="1.6" />
<text x="313.5" y="134.2" font-size="6.2" text-anchor="start" >-1.0 V</text>
<line x1="301.3" y1="138.1" x2="312.0" y2="138.1" stroke="#6478d8" stroke-width="1.0" />
<text x="313.5" y="140.3" font-size="6.2" text-anchor="start" >-0.8 V</text>
<line x1="301.3" y1="144.2" x2="312.0" y2="144.2" stroke="#44447a" stroke-width="1.0" />
<text x="313.5" y="146.4" font-size="6.2" text-anchor="start" >-0.6 V</text>
<rect x="205.3" y="17.3" width="61.0" height="44.5" fill="#fff" stroke="#333" stroke-width="0.8"/>
<line x1="206.0" y1="61.8" x2="206.0" y2="59.8" stroke="#333" stroke-width="0.6" />
<line x1="206.0" y1="17.3" x2="206.0" y2="19.3" stroke="#333" stroke-width="0.6" />
<line x1="214.6" y1="61.8" x2="214.6" y2="60.5" stroke="#333" stroke-width="0.6" />
<line x1="214.6" y1="17.3" x2="214.6" y2="18.6" stroke="#333" stroke-width="0.6" />
<line x1="223.2" y1="61.8" x2="223.2" y2="59.8" stroke="#333" stroke-width="0.6" />
<line x1="223.2" y1="17.3" x2="223.2" y2="19.3" stroke="#333" stroke-width="0.6" />
<line x1="231.7" y1="61.8" x2="231.7" y2="60.5" stroke="#333" stroke-width="0.6" />
<line x1="231.7" y1="17.3" x2="231.7" y2="18.6" stroke="#333" stroke-width="0.6" />
<line x1="240.3" y1="61.8" x2="240.3" y2="59.8" stroke="#333" stroke-width="0.6" />
<line x1="240.3" y1="17.3" x2="240.3" y2="19.3" stroke="#333" stroke-width="0.6" />
<line x1="248.9" y1="61.8" x2="248.9" y2="60.5" stroke="#333" stroke-width="0.6" />
<line x1="248.9" y1="17.3" x2="248.9" y2="18.6" stroke="#333" stroke-width="0.6" />
<line x1="257.4" y1="61.8" x2="257.4" y2="59.8" stroke="#333" stroke-width="0.6" />
<line x1="257.4" y1="17.3" x2="257.4" y2="19.3" stroke="#333" stroke-width="0.6" />
<line x1="205.3" y1="24.7" x2="206.8" y2="24.7" stroke="#333" stroke-width="0.6" />
<line x1="266.3" y1="24.7" x2="264.8" y2="24.7" stroke="#333" stroke-width="0.6" />
<line x1="205.3" y1="32.1" x2="206.8" y2="32.1" stroke="#333" stroke-width="0.6" />
<line x1="266.3" y1="32.1" x2="264.8" y2="32.1" stroke="#333" stroke-width="0.6" />
<line x1="205.3" y1="39.5" x2="206.8" y2="39.5" stroke="#333" stroke-width="0.6" />
<line x1="266.3" y1="39.5" x2="264.8" y2="39.5" stroke="#333" stroke-width="0.6" />
<line x1="205.3" y1="47.0" x2="206.8" y2="47.0" stroke="#333" stroke-width="0.6" />
<line x1="266.3" y1="47.0" x2="264.8" y2="47.0" stroke="#333" stroke-width="0.6" />
<line x1="205.3" y1="54.4" x2="206.8" y2="54.4" stroke="#333" stroke-width="0.6" />
<line x1="266.3" y1="54.4" x2="264.8" y2="54.4" stroke="#333" stroke-width="0.6" />
<text x="206.0" y="67.6" font-size="5.8" text-anchor="middle" >0</text>
<text x="223.2" y="67.6" font-size="5.8" text-anchor="middle" >10</text>
<text x="240.3" y="67.6" font-size="5.8" text-anchor="middle" >20</text>
<text x="257.4" y="67.6" font-size="5.8" text-anchor="middle" >30</text>
<text x="238.4" y="75.4" font-size="6.8" text-anchor="middle" ><tspan font-style="italic">f</tspan><tspan font-size="4.5" font-style="italic" dy="1.3">1/B</tspan><tspan dy="-1.3"> (T)</tspan></text>
<text x="209.3" y="25.2" font-size="5.9" text-anchor="start" textLength="29.4" lengthAdjust="spacingAndGlyphs"><tspan font-style="italic">V</tspan><tspan font-size="4.2" font-style="italic" dy="1.2">FG</tspan><tspan dy="-1.2"> = 0.5 V</tspan></text>
<path d="M213.0,60.2 L213.2,60.2 L213.5,60.2 L213.8,60.2 L214.0,60.1 L214.2,60.1 L214.5,60.1 L214.8,60.0 L215.0,60.0 L215.2,59.9 L215.5,59.8 L215.8,59.7 L216.0,59.6 L216.2,59.4 L216.5,59.2 L216.8,59.0 L217.0,58.7 L217.2,58.4 L217.5,58.0 L217.8,57.6 L218.0,57.1 L218.2,56.7 L218.5,56.2 L218.8,55.6 L219.0,55.1 L219.2,54.6 L219.5,54.0 L219.8,53.5 L220.0,53.1 L220.2,52.7 L220.5,52.4 L220.8,52.1 L221.0,52.0 L221.2,51.9 L221.5,51.9 L221.8,52.1 L222.0,52.3 L222.2,52.6 L222.5,52.9 L222.8,53.4 L223.0,53.8 L223.2,54.3 L223.5,54.9 L223.8,55.4 L224.0,56.0 L224.2,56.5 L224.5,57.0 L224.8,57.4 L225.0,57.8 L225.2,58.2 L225.5,58.6 L225.8,58.9 L226.0,59.1 L226.2,59.3 L226.5,59.5 L226.8,59.7 L227.0,59.8 L227.2,59.9 L227.5,60.0 L227.8,60.0 L228.0,60.1 L228.2,60.1 L228.5,60.1 L228.8,60.1 L229.0,60.2 L229.2,60.2 L229.5,60.2 L229.8,60.2 L230.0,60.2 L230.2,60.2 L230.5,60.2 L230.8,60.2 L231.0,60.2 L231.2,60.2 L231.5,60.2 L231.8,60.2 L232.0,60.2 L232.2,60.2 L232.5,60.2 L232.8,60.2 L233.0,60.2 L233.2,60.2 L233.5,60.2 L233.8,60.2 L234.0,60.2 L234.2,60.2 L234.5,60.2 L234.8,60.2 L235.0,60.1 L235.2,60.1 L235.5,60.1 L235.8,60.0 L236.0,59.9 L236.2,59.7 L236.5,59.5 L236.8,59.2 L237.0,58.8 L237.2,58.3 L237.5,57.6 L237.8,56.7 L238.0,55.6 L238.2,54.2 L238.5,52.6 L238.8,50.7 L239.0,48.5 L239.2,46.0 L239.5,43.4 L239.8,40.5 L240.0,37.5 L240.2,34.5 L240.5,31.6 L240.8,28.9 L241.0,26.5 L241.2,24.5 L241.5,23.0 L241.8,22.0 L242.0,21.7 L242.2,22.0 L242.5,23.0 L242.8,24.5 L243.0,26.5 L243.2,28.9 L243.5,31.6 L243.8,34.5 L244.0,37.5 L244.2,40.5 L244.5,43.4 L244.8,46.0 L245.0,48.5 L245.2,50.7 L245.5,52.6 L245.8,54.2 L246.0,55.6 L246.2,56.7 L246.5,57.6 L246.8,58.3 L247.0,58.8 L247.2,59.2 L247.5,59.5 L247.8,59.7 L248.0,59.9 L248.2,60.0 L248.5,60.1 L248.8,60.1 L249.0,60.1 L249.2,60.2 L249.5,60.2 L249.8,60.2 L250.0,60.2 L250.2,60.2 L250.5,60.2 L250.8,60.2 L251.0,60.2 L251.2,60.2 L251.5,60.2 L251.8,60.2 L252.0,60.2 L252.2,60.2 L252.5,60.2 L252.8,60.2 L253.0,60.2 L253.2,60.2 L253.5,60.2 L253.8,60.2 L254.0,60.2 L254.2,60.2 L254.5,60.2 L254.8,60.2 L255.0,60.2 L255.2,60.2 L255.5,60.2 L255.8,60.2 L256.0,60.2 L256.2,60.2 L256.5,60.2 L256.8,60.2 L257.0,60.2 L257.2,60.2 L257.5,60.2 L257.8,60.2 L258.0,60.2 L258.2,60.2 L258.5,60.2 L258.8,60.2 L259.0,60.2 L259.2,60.2 L259.5,60.2 L259.8,60.2 L260.0,60.2 L260.2,60.2 L260.5,60.2 L260.8,60.2 L261.0,60.2 L261.2,60.2 L261.5,60.2 L261.8,60.2 L262.0,60.2 L262.2,60.2 L262.5,60.2 L262.8,60.2 L263.0,60.2 L263.2,60.2 L263.5,60.2 L263.8,60.2 L264.0,60.2 L264.2,60.2 L264.5,60.2 L264.8,60.2 L265.0,60.2 L265.2,60.2 L265.5,60.2 L265.8,60.2" fill="none" stroke="#cc2636" stroke-width="1.0"/>
<rect x="213.8" y="58.9" width="1.4" height="1.4" fill="#cc2636"/>
<rect x="216.3" y="57.5" width="1.4" height="1.4" fill="#cc2636"/>
<rect x="218.8" y="52.8" width="1.4" height="1.4" fill="#cc2636"/>
<rect x="220.6" y="50.7" width="1.4" height="1.4" fill="#cc2636"/>
<rect x="222.3" y="52.6" width="1.4" height="1.4" fill="#cc2636"/>
<rect x="224.3" y="56.6" width="1.4" height="1.4" fill="#cc2636"/>
<rect x="226.3" y="58.6" width="1.4" height="1.4" fill="#cc2636"/>
<rect x="228.8" y="59.0" width="1.4" height="1.4" fill="#cc2636"/>
<rect x="230.8" y="59.0" width="1.4" height="1.4" fill="#cc2636"/>
<rect x="232.8" y="59.0" width="1.4" height="1.4" fill="#cc2636"/>
<rect x="234.8" y="58.9" width="1.4" height="1.4" fill="#cc2636"/>
<rect x="236.8" y="56.4" width="1.4" height="1.4" fill="#cc2636"/>
<rect x="238.8" y="42.2" width="1.4" height="1.4" fill="#cc2636"/>
<rect x="240.3" y="25.3" width="1.4" height="1.4" fill="#cc2636"/>
<rect x="241.6" y="21.0" width="1.4" height="1.4" fill="#cc2636"/>
<rect x="242.8" y="30.4" width="1.4" height="1.4" fill="#cc2636"/>
<rect x="244.3" y="47.3" width="1.4" height="1.4" fill="#cc2636"/>
<rect x="246.3" y="57.6" width="1.4" height="1.4" fill="#cc2636"/>
<rect x="248.3" y="58.9" width="1.4" height="1.4" fill="#cc2636"/>
<rect x="250.3" y="59.0" width="1.4" height="1.4" fill="#cc2636"/>
<rect x="252.3" y="59.0" width="1.4" height="1.4" fill="#cc2636"/>
<rect x="254.3" y="59.0" width="1.4" height="1.4" fill="#cc2636"/>
<rect x="256.3" y="59.0" width="1.4" height="1.4" fill="#cc2636"/>
<rect x="258.3" y="59.0" width="1.4" height="1.4" fill="#cc2636"/>
<rect x="260.3" y="59.0" width="1.4" height="1.4" fill="#cc2636"/>
<rect x="262.3" y="59.0" width="1.4" height="1.4" fill="#cc2636"/>
<rect x="264.3" y="59.0" width="1.4" height="1.4" fill="#cc2636"/>
<rect x="206.5" y="122.8" width="58.10000000000002" height="44.39999999999999" fill="#fff" stroke="#333" stroke-width="0.8"/>
<line x1="207.7" y1="167.2" x2="207.7" y2="165.2" stroke="#333" stroke-width="0.6" />
<line x1="207.7" y1="122.8" x2="207.7" y2="124.8" stroke="#333" stroke-width="0.6" />
<line x1="209.3" y1="167.2" x2="209.3" y2="166.3" stroke="#333" stroke-width="0.6" />
<line x1="209.3" y1="122.8" x2="209.3" y2="123.7" stroke="#333" stroke-width="0.6" />
<line x1="210.9" y1="167.2" x2="210.9" y2="166.3" stroke="#333" stroke-width="0.6" />
<line x1="210.9" y1="122.8" x2="210.9" y2="123.7" stroke="#333" stroke-width="0.6" />
<line x1="212.5" y1="167.2" x2="212.5" y2="166.3" stroke="#333" stroke-width="0.6" />
<line x1="212.5" y1="122.8" x2="212.5" y2="123.7" stroke="#333" stroke-width="0.6" />
<line x1="214.0" y1="167.2" x2="214.0" y2="166.3" stroke="#333" stroke-width="0.6" />
<line x1="214.0" y1="122.8" x2="214.0" y2="123.7" stroke="#333" stroke-width="0.6" />
<line x1="215.6" y1="167.2" x2="215.6" y2="165.9" stroke="#333" stroke-width="0.6" />
<line x1="215.6" y1="122.8" x2="215.6" y2="124.1" stroke="#333" stroke-width="0.6" />
<line x1="217.2" y1="167.2" x2="217.2" y2="166.3" stroke="#333" stroke-width="0.6" />
<line x1="217.2" y1="122.8" x2="217.2" y2="123.7" stroke="#333" stroke-width="0.6" />
<line x1="218.8" y1="167.2" x2="218.8" y2="166.3" stroke="#333" stroke-width="0.6" />
<line x1="218.8" y1="122.8" x2="218.8" y2="123.7" stroke="#333" stroke-width="0.6" />
<line x1="220.4" y1="167.2" x2="220.4" y2="166.3" stroke="#333" stroke-width="0.6" />
<line x1="220.4" y1="122.8" x2="220.4" y2="123.7" stroke="#333" stroke-width="0.6" />
<line x1="222.0" y1="167.2" x2="222.0" y2="166.3" stroke="#333" stroke-width="0.6" />
<line x1="222.0" y1="122.8" x2="222.0" y2="123.7" stroke="#333" stroke-width="0.6" />
<line x1="223.5" y1="167.2" x2="223.5" y2="165.2" stroke="#333" stroke-width="0.6" />
<line x1="223.5" y1="122.8" x2="223.5" y2="124.8" stroke="#333" stroke-width="0.6" />
<line x1="225.1" y1="167.2" x2="225.1" y2="166.3" stroke="#333" stroke-width="0.6" />
<line x1="225.1" y1="122.8" x2="225.1" y2="123.7" stroke="#333" stroke-width="0.6" />
<line x1="226.7" y1="167.2" x2="226.7" y2="166.3" stroke="#333" stroke-width="0.6" />
<line x1="226.7" y1="122.8" x2="226.7" y2="123.7" stroke="#333" stroke-width="0.6" />
<line x1="228.3" y1="167.2" x2="228.3" y2="166.3" stroke="#333" stroke-width="0.6" />
<line x1="228.3" y1="122.8" x2="228.3" y2="123.7" stroke="#333" stroke-width="0.6" />
<line x1="229.9" y1="167.2" x2="229.9" y2="166.3" stroke="#333" stroke-width="0.6" />
<line x1="229.9" y1="122.8" x2="229.9" y2="123.7" stroke="#333" stroke-width="0.6" />
<line x1="231.5" y1="167.2" x2="231.5" y2="165.9" stroke="#333" stroke-width="0.6" />
<line x1="231.5" y1="122.8" x2="231.5" y2="124.1" stroke="#333" stroke-width="0.6" />
<line x1="233.1" y1="167.2" x2="233.1" y2="166.3" stroke="#333" stroke-width="0.6" />
<line x1="233.1" y1="122.8" x2="233.1" y2="123.7" stroke="#333" stroke-width="0.6" />
<line x1="234.6" y1="167.2" x2="234.6" y2="166.3" stroke="#333" stroke-width="0.6" />
<line x1="234.6" y1="122.8" x2="234.6" y2="123.7" stroke="#333" stroke-width="0.6" />
<line x1="236.2" y1="167.2" x2="236.2" y2="166.3" stroke="#333" stroke-width="0.6" />
<line x1="236.2" y1="122.8" x2="236.2" y2="123.7" stroke="#333" stroke-width="0.6" />
<line x1="237.8" y1="167.2" x2="237.8" y2="166.3" stroke="#333" stroke-width="0.6" />
<line x1="237.8" y1="122.8" x2="237.8" y2="123.7" stroke="#333" stroke-width="0.6" />
<line x1="239.4" y1="167.2" x2="239.4" y2="165.2" stroke="#333" stroke-width="0.6" />
<line x1="239.4" y1="122.8" x2="239.4" y2="124.8" stroke="#333" stroke-width="0.6" />
<line x1="241.0" y1="167.2" x2="241.0" y2="166.3" stroke="#333" stroke-width="0.6" />
<line x1="241.0" y1="122.8" x2="241.0" y2="123.7" stroke="#333" stroke-width="0.6" />
<line x1="242.6" y1="167.2" x2="242.6" y2="166.3" stroke="#333" stroke-width="0.6" />
<line x1="242.6" y1="122.8" x2="242.6" y2="123.7" stroke="#333" stroke-width="0.6" />
<line x1="244.2" y1="167.2" x2="244.2" y2="166.3" stroke="#333" stroke-width="0.6" />
<line x1="244.2" y1="122.8" x2="244.2" y2="123.7" stroke="#333" stroke-width="0.6" />
<line x1="245.7" y1="167.2" x2="245.7" y2="166.3" stroke="#333" stroke-width="0.6" />
<line x1="245.7" y1="122.8" x2="245.7" y2="123.7" stroke="#333" stroke-width="0.6" />
<line x1="247.3" y1="167.2" x2="247.3" y2="165.9" stroke="#333" stroke-width="0.6" />
<line x1="247.3" y1="122.8" x2="247.3" y2="124.1" stroke="#333" stroke-width="0.6" />
<line x1="248.9" y1="167.2" x2="248.9" y2="166.3" stroke="#333" stroke-width="0.6" />
<line x1="248.9" y1="122.8" x2="248.9" y2="123.7" stroke="#333" stroke-width="0.6" />
<line x1="250.5" y1="167.2" x2="250.5" y2="166.3" stroke="#333" stroke-width="0.6" />
<line x1="250.5" y1="122.8" x2="250.5" y2="123.7" stroke="#333" stroke-width="0.6" />
<line x1="252.1" y1="167.2" x2="252.1" y2="166.3" stroke="#333" stroke-width="0.6" />
<line x1="252.1" y1="122.8" x2="252.1" y2="123.7" stroke="#333" stroke-width="0.6" />
<line x1="253.7" y1="167.2" x2="253.7" y2="166.3" stroke="#333" stroke-width="0.6" />
<line x1="253.7" y1="122.8" x2="253.7" y2="123.7" stroke="#333" stroke-width="0.6" />
<line x1="255.2" y1="167.2" x2="255.2" y2="165.2" stroke="#333" stroke-width="0.6" />
<line x1="255.2" y1="122.8" x2="255.2" y2="124.8" stroke="#333" stroke-width="0.6" />
<line x1="256.8" y1="167.2" x2="256.8" y2="166.3" stroke="#333" stroke-width="0.6" />
<line x1="256.8" y1="122.8" x2="256.8" y2="123.7" stroke="#333" stroke-width="0.6" />
<line x1="258.4" y1="167.2" x2="258.4" y2="166.3" stroke="#333" stroke-width="0.6" />
<line x1="258.4" y1="122.8" x2="258.4" y2="123.7" stroke="#333" stroke-width="0.6" />
<line x1="260.0" y1="167.2" x2="260.0" y2="166.3" stroke="#333" stroke-width="0.6" />
<line x1="260.0" y1="122.8" x2="260.0" y2="123.7" stroke="#333" stroke-width="0.6" />
<line x1="261.6" y1="167.2" x2="261.6" y2="166.3" stroke="#333" stroke-width="0.6" />
<line x1="261.6" y1="122.8" x2="261.6" y2="123.7" stroke="#333" stroke-width="0.6" />
<line x1="263.2" y1="167.2" x2="263.2" y2="165.9" stroke="#333" stroke-width="0.6" />
<line x1="263.2" y1="122.8" x2="263.2" y2="124.1" stroke="#333" stroke-width="0.6" />
<line x1="206.5" y1="130.2" x2="208.0" y2="130.2" stroke="#333" stroke-width="0.6" />
<line x1="264.6" y1="130.2" x2="263.1" y2="130.2" stroke="#333" stroke-width="0.6" />
<line x1="206.5" y1="137.6" x2="208.0" y2="137.6" stroke="#333" stroke-width="0.6" />
<line x1="264.6" y1="137.6" x2="263.1" y2="137.6" stroke="#333" stroke-width="0.6" />
<line x1="206.5" y1="145.0" x2="208.0" y2="145.0" stroke="#333" stroke-width="0.6" />
<line x1="264.6" y1="145.0" x2="263.1" y2="145.0" stroke="#333" stroke-width="0.6" />
<line x1="206.5" y1="152.4" x2="208.0" y2="152.4" stroke="#333" stroke-width="0.6" />
<line x1="264.6" y1="152.4" x2="263.1" y2="152.4" stroke="#333" stroke-width="0.6" />
<line x1="206.5" y1="159.8" x2="208.0" y2="159.8" stroke="#333" stroke-width="0.6" />
<line x1="264.6" y1="159.8" x2="263.1" y2="159.8" stroke="#333" stroke-width="0.6" />
<text x="207.7" y="172.9" font-size="5.8" text-anchor="middle" >0</text>
<text x="223.5" y="172.9" font-size="5.8" text-anchor="middle" >10</text>
<text x="239.4" y="172.9" font-size="5.8" text-anchor="middle" >20</text>
<text x="255.2" y="172.9" font-size="5.8" text-anchor="middle" >30</text>
<text x="236.6" y="180.4" font-size="6.8" text-anchor="middle" ><tspan font-style="italic">f</tspan><tspan font-size="4.5" font-style="italic" dy="1.3">1/B</tspan><tspan dy="-1.3"> (T)</tspan></text>
<text x="228.0" y="132.3" font-size="5.9" text-anchor="start" textLength="31.5" lengthAdjust="spacingAndGlyphs"><tspan font-style="italic">V</tspan><tspan font-size="4.2" font-style="italic" dy="1.2">FG</tspan><tspan dy="-1.2"> = -1.0 V</tspan></text>
<path d="M213.9,152.5 C214.2,150.6 215.0,144.8 215.5,141.0 C216.0,137.2 216.6,132.3 217.0,130.0 C217.4,127.7 217.8,126.8 218.2,127.3 C218.6,127.8 218.9,129.4 219.3,133.0 C219.7,136.6 220.2,144.9 220.7,148.6 C221.1,152.3 221.5,153.2 222.0,155.0 C222.5,156.8 223.1,158.4 223.7,159.4 C224.3,160.4 224.8,160.7 225.5,161.2 C226.2,161.7 226.8,162.0 227.6,162.3 C228.3,162.6 229.2,162.7 230.0,162.8 C230.8,162.9 231.8,163.2 232.6,163.1 C233.4,163.0 234.2,162.5 235.0,162.0 C235.8,161.5 236.8,161.0 237.5,160.2 C238.2,159.4 238.8,158.3 239.5,157.0 C240.2,155.7 240.8,154.5 241.4,152.5 C242.0,150.5 242.5,146.9 243.0,145.0 C243.5,143.1 244.0,141.8 244.4,141.3 C244.8,140.8 245.2,141.1 245.6,142.0 C246.0,142.9 246.3,144.6 246.7,146.6 C247.1,148.6 247.6,151.8 248.0,154.0 C248.4,156.2 248.9,158.5 249.3,159.8 C249.8,161.1 250.2,161.3 250.7,161.8 C251.2,162.3 251.3,162.5 252.2,162.7 C253.1,162.9 254.2,163.0 256.0,163.1 C257.8,163.2 261.8,163.3 263.0,163.3" fill="none" stroke="#3028b4" stroke-width="1.0"/>
<rect x="213.2" y="151.8" width="1.4" height="1.4" fill="#3028b4"/>
<rect x="215.3" y="139.3" width="1.4" height="1.4" fill="#3028b4"/>
<rect x="217.5" y="126.6" width="1.4" height="1.4" fill="#3028b4"/>
<rect x="218.9" y="136.3" width="1.4" height="1.4" fill="#3028b4"/>
<rect x="220.6" y="147.8" width="1.4" height="1.4" fill="#3028b4"/>
<rect x="223.0" y="151.8" width="1.4" height="1.4" fill="#3028b4"/>
<rect x="225.5" y="154.3" width="1.4" height="1.4" fill="#3028b4"/>
<rect x="228.0" y="156.3" width="1.4" height="1.4" fill="#3028b4"/>
<rect x="230.5" y="158.3" width="1.4" height="1.4" fill="#3028b4"/>
<rect x="233.0" y="160.3" width="1.4" height="1.4" fill="#3028b4"/>
<rect x="235.5" y="161.8" width="1.4" height="1.4" fill="#3028b4"/>
<rect x="237.8" y="158.8" width="1.4" height="1.4" fill="#3028b4"/>
<rect x="239.8" y="154.3" width="1.4" height="1.4" fill="#3028b4"/>
<rect x="241.8" y="145.3" width="1.4" height="1.4" fill="#3028b4"/>
<rect x="243.7" y="140.6" width="1.4" height="1.4" fill="#3028b4"/>
<rect x="245.3" y="143.8" width="1.4" height="1.4" fill="#3028b4"/>
<rect x="246.8" y="150.3" width="1.4" height="1.4" fill="#3028b4"/>
<rect x="248.6" y="157.8" width="1.4" height="1.4" fill="#3028b4"/>
<rect x="250.8" y="161.3" width="1.4" height="1.4" fill="#3028b4"/>
<rect x="253.3" y="162.1" width="1.4" height="1.4" fill="#3028b4"/>
<rect x="256.3" y="161.8" width="1.4" height="1.4" fill="#3028b4"/>
<rect x="259.3" y="162.1" width="1.4" height="1.4" fill="#3028b4"/>
<rect x="262.1" y="162.3" width="1.4" height="1.4" fill="#3028b4"/>
<line x1="371.0" y1="92.0" x2="503.8" y2="12.3" stroke="#111" stroke-width="1.1" />
<line x1="371.0" y1="49.4" x2="503.8" y2="49.4" stroke="#555" stroke-width="1.1" stroke-dasharray="1.8,1.2"/>
<clipPath id="cu"><rect x="371" y="11.5" width="132.8" height="84.2"/></clipPath>
<g clip-path="url(#cu)" fill="none" stroke="#30b084" stroke-width="1.1">
<path d="M383.0,85.3 C384.2,84.5 388.0,82.1 390.4,80.6 C392.8,79.1 395.0,77.6 397.3,76.2 C399.6,74.8 402.2,73.3 404.0,72.3 C405.8,71.3 406.7,70.9 408.0,70.4 C409.3,69.9 410.3,69.6 411.7,69.1 C413.1,68.6 414.7,67.8 416.5,67.4 C418.3,67.0 420.7,66.8 422.3,66.9 C423.9,67.1 425.2,67.6 426.2,68.3 C427.2,69.0 427.9,69.8 428.5,71.2 C429.1,72.7 429.6,74.1 430.0,77.0 C430.4,79.9 430.8,85.0 431.0,88.5 C431.2,92.0 431.4,96.4 431.5,98.0"/>
<path d="M431.4,9 L431.5,98"/>
<path d="M432.9,9 L432.9,98"/>
<path d="M435.5,9.0 C435.6,10.2 435.7,13.8 435.9,16.0 C436.1,18.2 436.3,20.5 436.5,22.0 C436.7,23.5 437.0,25.2 437.3,25.2 C437.6,25.2 437.9,23.5 438.2,22.0 C438.4,20.5 438.6,18.2 438.8,16.0 C439.0,13.8 439.2,10.2 439.3,9.0"/>
<path d="M441.6,9 L441.6,98"/>
<path d="M445.2,9 L445.2,98"/>
<path d="M447.3,9.0 C447.4,10.2 447.4,13.7 447.6,16.0 C447.8,18.3 448.0,21.0 448.3,23.0 C448.6,25.0 448.9,26.6 449.3,28.0 C449.7,29.4 450.1,30.4 450.6,31.3 C451.1,32.2 451.7,32.7 452.4,33.2 C453.1,33.7 454.1,33.9 455.0,34.1 C455.9,34.3 457.1,34.3 458.1,34.2 C459.1,34.1 460.2,33.9 461.0,33.6 C461.8,33.3 462.2,33.1 463.0,32.6 C463.8,32.1 464.7,31.2 465.5,30.5 C466.3,29.8 467.2,29.1 468.0,28.5 C468.8,27.9 469.7,27.4 470.5,27.0 C471.3,26.6 471.7,26.4 472.9,26.0 C474.1,25.6 476.0,25.1 477.8,24.4 C479.6,23.7 481.7,22.8 483.5,21.9 C485.3,20.9 486.8,19.8 488.4,18.7 C490.0,17.6 491.9,16.4 493.4,15.4 C494.9,14.4 495.9,13.9 497.5,12.9 C499.1,11.9 502.1,10.1 503.0,9.5"/>
<path d="M450.6,29.9 C450.9,30.2 451.7,31.3 452.4,31.8 C453.1,32.3 454.1,32.5 455.0,32.7 C455.9,32.9 457.1,32.9 458.1,32.8 C459.1,32.7 460.2,32.5 461.0,32.2 C461.8,31.9 462.2,31.7 463.0,31.2 C463.8,30.7 464.7,29.8 465.5,29.1 C466.3,28.4 467.2,27.7 468.0,27.1 C468.8,26.5 469.7,26.0 470.5,25.6 C471.3,25.2 471.7,25.0 472.9,24.6 C474.1,24.2 476.0,23.7 477.8,23.0 C479.6,22.3 481.7,21.4 483.5,20.5 C485.3,19.6 486.8,18.4 488.4,17.3 C490.0,16.2 491.9,15.0 493.4,14.0 C494.9,13.0 495.9,12.5 497.5,11.5 C499.1,10.5 502.1,8.7 503.0,8.1" stroke-width="0.8" stroke="#7ad8b8"/>
</g>
<rect x="382.0" y="83.2" width="3" height="3" fill="#111"/>
<rect x="388.9" y="79.0" width="3" height="3" fill="#111"/>
<rect x="395.8" y="74.2" width="3" height="3" fill="#111"/>
<rect x="408.7" y="68.2" width="3" height="3" fill="#111"/>
<rect x="463.2" y="31.4" width="3" height="3" fill="#111"/>
<rect x="469.7" y="27.7" width="3" height="3" fill="#111"/>
<rect x="476.3" y="25.8" width="3" height="3" fill="#111"/>
<rect x="482.5" y="22.1" width="3" height="3" fill="#111"/>
<line x1="371.0" y1="116.4" x2="503.8" y2="200.1" stroke="#3a3ac0" stroke-width="1.1" />
<line x1="371.0" y1="205.0" x2="503.8" y2="116.2" stroke="#d23030" stroke-width="1.1" />
<circle cx="383.6" cy="123.0" r="1.9" fill="#2a2ad8"/>
<circle cx="390.1" cy="128.7" r="1.9" fill="#2a2ad8"/>
<circle cx="397.3" cy="133.8" r="1.9" fill="#2a2ad8"/>
<circle cx="410.2" cy="137.9" r="1.9" fill="#2a2ad8"/>
<circle cx="464.5" cy="176.3" r="1.9" fill="#2a2ad8"/>
<circle cx="470.9" cy="178.7" r="1.9" fill="#2a2ad8"/>
<circle cx="477.5" cy="180.0" r="1.9" fill="#2a2ad8"/>
<circle cx="484.2" cy="184.6" r="1.9" fill="#2a2ad8"/>
<circle cx="383.5" cy="196.2" r="1.9" fill="#e02828"/>
<circle cx="390.0" cy="193.5" r="1.9" fill="#e02828"/>
<circle cx="397.0" cy="188.5" r="1.9" fill="#e02828"/>
<circle cx="410.3" cy="180.0" r="1.9" fill="#e02828"/>
<circle cx="417.2" cy="171.3" r="1.9" fill="#e02828"/>
<circle cx="457.3" cy="146.7" r="1.9" fill="#e02828"/>
<circle cx="464.0" cy="141.8" r="1.9" fill="#e02828"/>
<circle cx="470.6" cy="137.4" r="1.9" fill="#e02828"/>
<circle cx="477.5" cy="134.2" r="1.9" fill="#e02828"/>
<circle cx="484.2" cy="131.7" r="1.9" fill="#e02828"/>
<rect x="371" y="11.5" width="132.8" height="210.7" fill="none" stroke="#6a6a6a" stroke-width="1.1"/>
<line x1="371.0" y1="95.7" x2="503.8" y2="95.7" stroke="#6a6a6a" stroke-width="1.1" />
<line x1="371.7" y1="11.5" x2="371.7" y2="13.5" stroke="#333" stroke-width="0.85" />
<line x1="371.7" y1="222.2" x2="371.7" y2="220.2" stroke="#333" stroke-width="0.85" />
<line x1="371.7" y1="94.4" x2="371.7" y2="97.0" stroke="#333" stroke-width="0.85" />
<line x1="378.4" y1="11.5" x2="378.4" y2="13.5" stroke="#333" stroke-width="0.85" />
<line x1="378.4" y1="222.2" x2="378.4" y2="220.2" stroke="#333" stroke-width="0.85" />
<line x1="378.4" y1="94.4" x2="378.4" y2="97.0" stroke="#333" stroke-width="0.85" />
<line x1="385.0" y1="11.5" x2="385.0" y2="15.0" stroke="#333" stroke-width="0.85" />
<line x1="385.0" y1="222.2" x2="385.0" y2="218.7" stroke="#333" stroke-width="0.85" />
<line x1="385.0" y1="94.4" x2="385.0" y2="97.0" stroke="#333" stroke-width="0.85" />
<line x1="391.6" y1="11.5" x2="391.6" y2="13.5" stroke="#333" stroke-width="0.85" />
<line x1="391.6" y1="222.2" x2="391.6" y2="220.2" stroke="#333" stroke-width="0.85" />
<line x1="391.6" y1="94.4" x2="391.6" y2="97.0" stroke="#333" stroke-width="0.85" />
<line x1="398.3" y1="11.5" x2="398.3" y2="13.5" stroke="#333" stroke-width="0.85" />
<line x1="398.3" y1="222.2" x2="398.3" y2="220.2" stroke="#333" stroke-width="0.85" />
<line x1="398.3" y1="94.4" x2="398.3" y2="97.0" stroke="#333" stroke-width="0.85" />
<line x1="404.9" y1="11.5" x2="404.9" y2="13.5" stroke="#333" stroke-width="0.85" />
<line x1="404.9" y1="222.2" x2="404.9" y2="220.2" stroke="#333" stroke-width="0.85" />
<line x1="404.9" y1="94.4" x2="404.9" y2="97.0" stroke="#333" stroke-width="0.85" />
<line x1="411.6" y1="11.5" x2="411.6" y2="13.5" stroke="#333" stroke-width="0.85" />
<line x1="411.6" y1="222.2" x2="411.6" y2="220.2" stroke="#333" stroke-width="0.85" />
<line x1="411.6" y1="94.4" x2="411.6" y2="97.0" stroke="#333" stroke-width="0.85" />
<line x1="418.2" y1="11.5" x2="418.2" y2="15.0" stroke="#333" stroke-width="0.85" />
<line x1="418.2" y1="222.2" x2="418.2" y2="218.7" stroke="#333" stroke-width="0.85" />
<line x1="418.2" y1="94.4" x2="418.2" y2="97.0" stroke="#333" stroke-width="0.85" />
<line x1="424.8" y1="11.5" x2="424.8" y2="13.5" stroke="#333" stroke-width="0.85" />
<line x1="424.8" y1="222.2" x2="424.8" y2="220.2" stroke="#333" stroke-width="0.85" />
<line x1="424.8" y1="94.4" x2="424.8" y2="97.0" stroke="#333" stroke-width="0.85" />
<line x1="431.5" y1="11.5" x2="431.5" y2="13.5" stroke="#333" stroke-width="0.85" />
<line x1="431.5" y1="222.2" x2="431.5" y2="220.2" stroke="#333" stroke-width="0.85" />
<line x1="431.5" y1="94.4" x2="431.5" y2="97.0" stroke="#333" stroke-width="0.85" />
<line x1="438.1" y1="11.5" x2="438.1" y2="13.5" stroke="#333" stroke-width="0.85" />
<line x1="438.1" y1="222.2" x2="438.1" y2="220.2" stroke="#333" stroke-width="0.85" />
<line x1="438.1" y1="94.4" x2="438.1" y2="97.0" stroke="#333" stroke-width="0.85" />
<line x1="444.8" y1="11.5" x2="444.8" y2="13.5" stroke="#333" stroke-width="0.85" />
<line x1="444.8" y1="222.2" x2="444.8" y2="220.2" stroke="#333" stroke-width="0.85" />
<line x1="444.8" y1="94.4" x2="444.8" y2="97.0" stroke="#333" stroke-width="0.85" />
<line x1="451.4" y1="11.5" x2="451.4" y2="15.0" stroke="#333" stroke-width="0.85" />
<line x1="451.4" y1="222.2" x2="451.4" y2="218.7" stroke="#333" stroke-width="0.85" />
<line x1="451.4" y1="94.4" x2="451.4" y2="97.0" stroke="#333" stroke-width="0.85" />
<line x1="458.0" y1="11.5" x2="458.0" y2="13.5" stroke="#333" stroke-width="0.85" />
<line x1="458.0" y1="222.2" x2="458.0" y2="220.2" stroke="#333" stroke-width="0.85" />
<line x1="458.0" y1="94.4" x2="458.0" y2="97.0" stroke="#333" stroke-width="0.85" />
<line x1="464.7" y1="11.5" x2="464.7" y2="13.5" stroke="#333" stroke-width="0.85" />
<line x1="464.7" y1="222.2" x2="464.7" y2="220.2" stroke="#333" stroke-width="0.85" />
<line x1="464.7" y1="94.4" x2="464.7" y2="97.0" stroke="#333" stroke-width="0.85" />
<line x1="471.3" y1="11.5" x2="471.3" y2="13.5" stroke="#333" stroke-width="0.85" />
<line x1="471.3" y1="222.2" x2="471.3" y2="220.2" stroke="#333" stroke-width="0.85" />
<line x1="471.3" y1="94.4" x2="471.3" y2="97.0" stroke="#333" stroke-width="0.85" />
<line x1="478.0" y1="11.5" x2="478.0" y2="13.5" stroke="#333" stroke-width="0.85" />
<line x1="478.0" y1="222.2" x2="478.0" y2="220.2" stroke="#333" stroke-width="0.85" />
<line x1="478.0" y1="94.4" x2="478.0" y2="97.0" stroke="#333" stroke-width="0.85" />
<line x1="484.6" y1="11.5" x2="484.6" y2="15.0" stroke="#333" stroke-width="0.85" />
<line x1="484.6" y1="222.2" x2="484.6" y2="218.7" stroke="#333" stroke-width="0.85" />
<line x1="484.6" y1="94.4" x2="484.6" y2="97.0" stroke="#333" stroke-width="0.85" />
<line x1="491.2" y1="11.5" x2="491.2" y2="13.5" stroke="#333" stroke-width="0.85" />
<line x1="491.2" y1="222.2" x2="491.2" y2="220.2" stroke="#333" stroke-width="0.85" />
<line x1="491.2" y1="94.4" x2="491.2" y2="97.0" stroke="#333" stroke-width="0.85" />
<line x1="497.9" y1="11.5" x2="497.9" y2="13.5" stroke="#333" stroke-width="0.85" />
<line x1="497.9" y1="222.2" x2="497.9" y2="220.2" stroke="#333" stroke-width="0.85" />
<line x1="497.9" y1="94.4" x2="497.9" y2="97.0" stroke="#333" stroke-width="0.85" />
<line x1="371.0" y1="83.1" x2="374.5" y2="83.1" stroke="#333" stroke-width="0.85" />
<line x1="503.8" y1="83.1" x2="500.3" y2="83.1" stroke="#333" stroke-width="0.85" />
<line x1="371.0" y1="74.6" x2="373.0" y2="74.6" stroke="#333" stroke-width="0.85" />
<line x1="503.8" y1="74.6" x2="501.8" y2="74.6" stroke="#333" stroke-width="0.85" />
<line x1="371.0" y1="66.2" x2="374.5" y2="66.2" stroke="#333" stroke-width="0.85" />
<line x1="503.8" y1="66.2" x2="500.3" y2="66.2" stroke="#333" stroke-width="0.85" />
<line x1="371.0" y1="57.8" x2="373.0" y2="57.8" stroke="#333" stroke-width="0.85" />
<line x1="503.8" y1="57.8" x2="501.8" y2="57.8" stroke="#333" stroke-width="0.85" />
<line x1="371.0" y1="49.3" x2="374.5" y2="49.3" stroke="#333" stroke-width="0.85" />
<line x1="503.8" y1="49.3" x2="500.3" y2="49.3" stroke="#333" stroke-width="0.85" />
<line x1="371.0" y1="40.8" x2="373.0" y2="40.8" stroke="#333" stroke-width="0.85" />
<line x1="503.8" y1="40.8" x2="501.8" y2="40.8" stroke="#333" stroke-width="0.85" />
<line x1="371.0" y1="32.4" x2="374.5" y2="32.4" stroke="#333" stroke-width="0.85" />
<line x1="503.8" y1="32.4" x2="500.3" y2="32.4" stroke="#333" stroke-width="0.85" />
<line x1="371.0" y1="23.9" x2="373.0" y2="23.9" stroke="#333" stroke-width="0.85" />
<line x1="503.8" y1="23.9" x2="501.8" y2="23.9" stroke="#333" stroke-width="0.85" />
<line x1="371.0" y1="15.5" x2="374.5" y2="15.5" stroke="#333" stroke-width="0.85" />
<line x1="503.8" y1="15.5" x2="500.3" y2="15.5" stroke="#333" stroke-width="0.85" />
<text x="369.0" y="86.1" font-size="7" text-anchor="end" >-4</text>
<text x="369.0" y="69.2" font-size="7" text-anchor="end" >-2</text>
<text x="369.0" y="52.3" font-size="7" text-anchor="end" >0</text>
<text x="369.0" y="35.4" font-size="7" text-anchor="end" >2</text>
<text x="369.0" y="18.5" font-size="7" text-anchor="end" >4</text>
<line x1="371.0" y1="221.2" x2="374.5" y2="221.2" stroke="#333" stroke-width="0.85" />
<line x1="371.0" y1="217.7" x2="373.0" y2="217.7" stroke="#333" stroke-width="0.85" />
<line x1="371.0" y1="214.2" x2="373.0" y2="214.2" stroke="#333" stroke-width="0.85" />
<line x1="371.0" y1="210.7" x2="373.0" y2="210.7" stroke="#333" stroke-width="0.85" />
<line x1="371.0" y1="207.3" x2="373.0" y2="207.3" stroke="#333" stroke-width="0.85" />
<line x1="371.0" y1="203.8" x2="374.5" y2="203.8" stroke="#333" stroke-width="0.85" />
<line x1="371.0" y1="200.3" x2="373.0" y2="200.3" stroke="#333" stroke-width="0.85" />
<line x1="371.0" y1="196.8" x2="373.0" y2="196.8" stroke="#333" stroke-width="0.85" />
<line x1="371.0" y1="193.3" x2="373.0" y2="193.3" stroke="#333" stroke-width="0.85" />
<line x1="371.0" y1="189.8" x2="373.0" y2="189.8" stroke="#333" stroke-width="0.85" />
<line x1="371.0" y1="186.3" x2="374.5" y2="186.3" stroke="#333" stroke-width="0.85" />
<line x1="371.0" y1="182.9" x2="373.0" y2="182.9" stroke="#333" stroke-width="0.85" />
<line x1="371.0" y1="179.4" x2="373.0" y2="179.4" stroke="#333" stroke-width="0.85" />
<line x1="371.0" y1="175.9" x2="373.0" y2="175.9" stroke="#333" stroke-width="0.85" />
<line x1="371.0" y1="172.4" x2="373.0" y2="172.4" stroke="#333" stroke-width="0.85" />
<line x1="371.0" y1="168.9" x2="374.5" y2="168.9" stroke="#333" stroke-width="0.85" />
<line x1="371.0" y1="165.4" x2="373.0" y2="165.4" stroke="#333" stroke-width="0.85" />
<line x1="371.0" y1="161.9" x2="373.0" y2="161.9" stroke="#333" stroke-width="0.85" />
<line x1="371.0" y1="158.5" x2="373.0" y2="158.5" stroke="#333" stroke-width="0.85" />
<line x1="371.0" y1="155.0" x2="373.0" y2="155.0" stroke="#333" stroke-width="0.85" />
<line x1="371.0" y1="151.5" x2="374.5" y2="151.5" stroke="#333" stroke-width="0.85" />
<line x1="371.0" y1="148.0" x2="373.0" y2="148.0" stroke="#333" stroke-width="0.85" />
<line x1="371.0" y1="144.5" x2="373.0" y2="144.5" stroke="#333" stroke-width="0.85" />
<line x1="371.0" y1="141.0" x2="373.0" y2="141.0" stroke="#333" stroke-width="0.85" />
<line x1="371.0" y1="137.5" x2="373.0" y2="137.5" stroke="#333" stroke-width="0.85" />
<line x1="371.0" y1="134.0" x2="374.5" y2="134.0" stroke="#333" stroke-width="0.85" />
<line x1="371.0" y1="130.6" x2="373.0" y2="130.6" stroke="#333" stroke-width="0.85" />
<line x1="371.0" y1="127.1" x2="373.0" y2="127.1" stroke="#333" stroke-width="0.85" />
<line x1="371.0" y1="123.6" x2="373.0" y2="123.6" stroke="#333" stroke-width="0.85" />
<line x1="371.0" y1="120.1" x2="373.0" y2="120.1" stroke="#333" stroke-width="0.85" />
<line x1="371.0" y1="116.6" x2="374.5" y2="116.6" stroke="#333" stroke-width="0.85" />
<line x1="371.0" y1="113.1" x2="373.0" y2="113.1" stroke="#333" stroke-width="0.85" />
<line x1="371.0" y1="109.6" x2="373.0" y2="109.6" stroke="#333" stroke-width="0.85" />
<line x1="371.0" y1="106.2" x2="373.0" y2="106.2" stroke="#333" stroke-width="0.85" />
<line x1="371.0" y1="102.7" x2="373.0" y2="102.7" stroke="#333" stroke-width="0.85" />
<line x1="371.0" y1="99.2" x2="374.5" y2="99.2" stroke="#333" stroke-width="0.85" />
<text x="369.0" y="224.2" font-size="7" text-anchor="end" >0</text>
<text x="369.0" y="206.8" font-size="7" text-anchor="end" >1</text>
<text x="369.0" y="189.3" font-size="7" text-anchor="end" >2</text>
<text x="369.0" y="171.9" font-size="7" text-anchor="end" >3</text>
<text x="369.0" y="154.5" font-size="7" text-anchor="end" >4</text>
<text x="369.0" y="137.0" font-size="7" text-anchor="end" >5</text>
<text x="369.0" y="119.6" font-size="7" text-anchor="end" >6</text>
<text x="369.0" y="102.2" font-size="7" text-anchor="end" >7</text>
<line x1="503.8" y1="221.2" x2="500.3" y2="221.2" stroke="#333" stroke-width="0.85" />
<line x1="503.8" y1="217.0" x2="502.0" y2="217.0" stroke="#333" stroke-width="0.85" />
<line x1="503.8" y1="212.8" x2="502.0" y2="212.8" stroke="#333" stroke-width="0.85" />
<line x1="503.8" y1="208.7" x2="502.0" y2="208.7" stroke="#333" stroke-width="0.85" />
<line x1="503.8" y1="204.5" x2="502.0" y2="204.5" stroke="#333" stroke-width="0.85" />
<line x1="503.8" y1="200.3" x2="501.3" y2="200.3" stroke="#333" stroke-width="0.85" />
<line x1="503.8" y1="196.1" x2="502.0" y2="196.1" stroke="#333" stroke-width="0.85" />
<line x1="503.8" y1="191.9" x2="502.0" y2="191.9" stroke="#333" stroke-width="0.85" />
<line x1="503.8" y1="187.8" x2="502.0" y2="187.8" stroke="#333" stroke-width="0.85" />
<line x1="503.8" y1="183.6" x2="502.0" y2="183.6" stroke="#333" stroke-width="0.85" />
<line x1="503.8" y1="179.4" x2="500.3" y2="179.4" stroke="#333" stroke-width="0.85" />
<line x1="503.8" y1="175.2" x2="502.0" y2="175.2" stroke="#333" stroke-width="0.85" />
<line x1="503.8" y1="171.0" x2="502.0" y2="171.0" stroke="#333" stroke-width="0.85" />
<line x1="503.8" y1="166.9" x2="502.0" y2="166.9" stroke="#333" stroke-width="0.85" />
<line x1="503.8" y1="162.7" x2="502.0" y2="162.7" stroke="#333" stroke-width="0.85" />
<line x1="503.8" y1="158.5" x2="501.3" y2="158.5" stroke="#333" stroke-width="0.85" />
<line x1="503.8" y1="154.3" x2="502.0" y2="154.3" stroke="#333" stroke-width="0.85" />
<line x1="503.8" y1="150.1" x2="502.0" y2="150.1" stroke="#333" stroke-width="0.85" />
<line x1="503.8" y1="146.0" x2="502.0" y2="146.0" stroke="#333" stroke-width="0.85" />
<line x1="503.8" y1="141.8" x2="502.0" y2="141.8" stroke="#333" stroke-width="0.85" />
<line x1="503.8" y1="137.6" x2="500.3" y2="137.6" stroke="#333" stroke-width="0.85" />
<line x1="503.8" y1="133.4" x2="502.0" y2="133.4" stroke="#333" stroke-width="0.85" />
<line x1="503.8" y1="129.2" x2="502.0" y2="129.2" stroke="#333" stroke-width="0.85" />
<line x1="503.8" y1="125.1" x2="502.0" y2="125.1" stroke="#333" stroke-width="0.85" />
<line x1="503.8" y1="120.9" x2="502.0" y2="120.9" stroke="#333" stroke-width="0.85" />
<line x1="503.8" y1="116.7" x2="501.3" y2="116.7" stroke="#333" stroke-width="0.85" />
<line x1="503.8" y1="112.5" x2="502.0" y2="112.5" stroke="#333" stroke-width="0.85" />
<line x1="503.8" y1="108.3" x2="502.0" y2="108.3" stroke="#333" stroke-width="0.85" />
<line x1="503.8" y1="104.2" x2="502.0" y2="104.2" stroke="#333" stroke-width="0.85" />
<line x1="503.8" y1="100.0" x2="502.0" y2="100.0" stroke="#333" stroke-width="0.85" />
<text x="506.3" y="224.2" font-size="7" text-anchor="start" >0</text>
<text x="506.3" y="182.4" font-size="7" text-anchor="start" >10</text>
<text x="506.3" y="140.6" font-size="7" text-anchor="start" >20</text>
<text x="385.0" y="229.5" font-size="7" text-anchor="middle" >-1.0</text>
<text x="418.2" y="229.5" font-size="7" text-anchor="middle" >-0.5</text>
<text x="451.4" y="229.5" font-size="7" text-anchor="middle" >0.0</text>
<text x="484.6" y="229.5" font-size="7" text-anchor="middle" >0.5</text>
<text x="441.5" y="241.0" font-size="7.5" text-anchor="middle" ><tspan font-style="italic">V</tspan><tspan font-size="5" font-style="italic" dy="1.5">FG</tspan><tspan dy="-1.5"> (V)</tspan></text>
<text x="350.5" y="6.0" font-size="8.8" text-anchor="start" font-weight="bold">(c)</text>
<text transform="translate(357.6,50.5) rotate(-90)" font-size="6.5" text-anchor="middle"><tspan font-style="italic">n</tspan><tspan font-size="4.5" font-style="italic" dy="1.3">e</tspan><tspan dy="-1.3"> - </tspan><tspan font-style="italic">n</tspan><tspan font-size="4.5" font-style="italic" dy="1.3">h</tspan><tspan dy="-1.3">, </tspan><tspan font-style="italic">B</tspan>/<tspan font-style="italic">eR</tspan><tspan font-size="4.5" font-style="italic" dy="1.3">xy</tspan><tspan dy="-1.3"> (10</tspan><tspan font-size="4.5" dy="-2.5">15</tspan><tspan dy="2.5"> m</tspan><tspan font-size="4.5" dy="-2.5">-2</tspan><tspan dy="2.5">)</tspan></text>
<text transform="translate(357.8,160) rotate(-90)" font-size="6.5" text-anchor="middle"><tspan font-style="italic">n</tspan><tspan font-size="4.5" font-style="italic" dy="1.3">e</tspan><tspan dy="-1.3"> , </tspan><tspan font-style="italic">n</tspan><tspan font-size="4.5" font-style="italic" dy="1.3">h</tspan><tspan dy="-1.3"> (10</tspan><tspan font-size="4.5" dy="-2.5">15</tspan><tspan dy="2.5"> m</tspan><tspan font-size="4.5" dy="-2.5">-2</tspan><tspan dy="2.5">)</tspan></text>
<text transform="translate(518.6,157.8) rotate(-90)" font-size="7" text-anchor="middle"><tspan font-style="italic">f</tspan><tspan font-size="4.5" font-style="italic" dy="1.3">1/B</tspan><tspan dy="-1.3"> (T)</tspan></text>
<g stroke="#333" stroke-width="0.8" fill="none">
<path d="M411.4,111.4 H420.2 M421.7,111.4 H439 M440.5,111.4 H457 M458.5,111.4 H466.8"/>
<path d="M420.2,108.3 V114.5"/>
<path d="M421.7,108.3 V114.5"/>
<path d="M439.0,108.3 V114.5"/>
<path d="M440.5,108.3 V114.5"/>
<path d="M457.0,108.3 V114.5"/>
<path d="M458.5,108.3 V114.5"/>
<path d="M430.9,111.4 V121.5 M430.9,123.3 V134.5 M427.9,121.5 H433.9 M427.9,123.3 H433.9 M427.9,134.5 H433.9 M428.9,136 H432.9 M429.9,137.5 H431.9"/>
<path d="M448.7,111.4 V121.5 M448.7,123.3 V134.5 M445.7,121.5 H451.7 M445.7,123.3 H451.7 M445.7,134.5 H451.7 M446.7,136 H450.7 M447.7,137.5 H449.7"/>
</g>
<circle cx="411.4" cy="111.4" r="0.8" fill="#222"/>
<circle cx="466.8" cy="111.4" r="0.8" fill="#222"/>
<circle cx="430.9" cy="111.4" r="0.8" fill="#222"/>
<circle cx="448.7" cy="111.4" r="0.8" fill="#222"/>
<text x="397.0" y="113.8" font-size="6.5" text-anchor="start" ><tspan font-style="italic">V</tspan><tspan font-size="4.5" font-style="italic" dy="1.3">FG</tspan></text>
<text x="468.5" y="113.8" font-size="6.5" text-anchor="start" ><tspan font-style="italic">V</tspan><tspan font-size="4.5" font-style="italic" dy="1.3">BG</tspan></text>
<text x="418.0" y="105.5" font-size="6.5" text-anchor="start" ><tspan font-style="italic">c</tspan><tspan font-size="4.5" dy="1.3">F</tspan></text>
<text x="436.0" y="105.5" font-size="6.5" text-anchor="start" ><tspan font-style="italic">c</tspan><tspan font-size="4.5" dy="1.3">M</tspan></text>
<text x="454.2" y="105.5" font-size="6.5" text-anchor="start" ><tspan font-style="italic">c</tspan><tspan font-size="4.5" dy="1.3">B</tspan></text>
<text x="412.2" y="125.5" font-size="6.5" text-anchor="start" ><tspan font-style="italic">c</tspan><tspan font-size="4.5" dy="1.3">InAs</tspan></text>
<text x="454.0" y="124.5" font-size="6.5" text-anchor="start" ><tspan font-style="italic">c</tspan><tspan font-size="4.5" dy="1.3">InGaSb</tspan></text>
<line x1="407.8" y1="201.8" x2="470.8" y2="201.8" stroke="#ecc060" stroke-width="1.3" />
<path d="M418.5,182.3 C418.7,182.8 419.2,184.6 419.5,185.5 C419.8,186.4 420.0,187.0 420.5,188.0 C421.0,189.0 421.9,190.6 422.6,191.5 C423.4,192.4 424.1,193.0 425.0,193.2 C425.9,193.4 426.9,193.0 427.7,192.6 C428.5,192.2 429.1,191.6 430.0,191.0 C430.9,190.4 431.8,189.5 432.8,188.9 C433.8,188.3 435.0,187.7 436.0,187.4 C437.0,187.1 438.0,187.0 439.0,187.0 C440.0,187.0 441.0,187.1 442.0,187.4 C443.0,187.7 444.1,188.3 445.1,188.9 C446.1,189.5 447.1,190.2 448.0,190.8 C448.9,191.4 449.4,191.8 450.3,192.2 C451.2,192.6 452.7,193.3 453.7,193.2 C454.7,193.1 455.7,192.1 456.4,191.5 C457.1,190.9 457.6,190.2 458.0,189.5 C458.4,188.8 458.7,188.2 459.1,187.4 C459.5,186.7 459.9,185.8 460.2,185.0 C460.5,184.2 461.0,182.8 461.1,182.3" fill="none" stroke="#222" stroke-width="1.0"/>
<path d="M411.3,209.0 C411.9,208.4 413.9,206.5 415.0,205.5 C416.1,204.5 417.1,203.7 418.0,203.2 C418.9,202.7 419.7,202.6 420.5,202.6 C421.3,202.6 422.1,202.7 423.0,203.2 C423.9,203.7 424.8,204.4 426.0,205.5 C427.2,206.6 428.7,208.2 430.0,209.5 C431.3,210.8 432.7,212.2 434.0,213.0 C435.3,213.8 436.7,214.5 438.0,214.5 C439.3,214.5 440.7,213.8 442.0,213.0 C443.3,212.2 444.7,210.8 446.0,209.5 C447.3,208.2 448.8,206.6 450.0,205.5 C451.2,204.4 452.1,203.7 453.0,203.2 C453.9,202.7 454.6,202.6 455.4,202.6 C456.2,202.6 457.1,202.7 458.0,203.2 C458.9,203.7 459.9,204.7 461.0,205.5 C462.1,206.3 463.4,207.2 464.5,208.0 C465.6,208.8 467.2,209.7 467.7,210.0" fill="none" stroke="#222" stroke-width="1.0"/>
<path d="M411.3,206.0 C411.9,205.4 413.9,203.5 415.0,202.5 C416.1,201.5 417.1,200.7 418.0,200.2 C418.9,199.7 419.7,199.6 420.5,199.6 C421.3,199.6 422.1,199.7 423.0,200.2 C423.9,200.7 424.8,201.5 426.0,202.8 C427.2,204.2 428.7,206.5 430.0,208.2 C431.3,209.9 432.7,211.9 434.0,213.0 C435.3,214.1 436.7,214.5 438.0,214.5 C439.3,214.5 440.7,213.9 442.0,213.0 C443.3,212.1 444.7,210.4 446.0,208.8 C447.3,207.2 448.8,204.9 450.0,203.5 C451.2,202.1 452.1,200.8 453.0,200.2 C453.9,199.5 454.6,199.6 455.4,199.6 C456.2,199.6 457.1,199.7 458.0,200.2 C458.9,200.7 459.9,201.7 461.0,202.5 C462.1,203.3 463.4,204.2 464.5,205.0 C465.6,205.8 467.2,206.7 467.7,207.0" fill="none" stroke="#555" stroke-width="0.9"/>
<text x="472.8" y="204.3" font-size="7" text-anchor="start" ><tspan font-style="italic">E</tspan><tspan font-size="4.5" font-style="italic" dy="1.3">F</tspan></text>
</svg>
</body></html>
